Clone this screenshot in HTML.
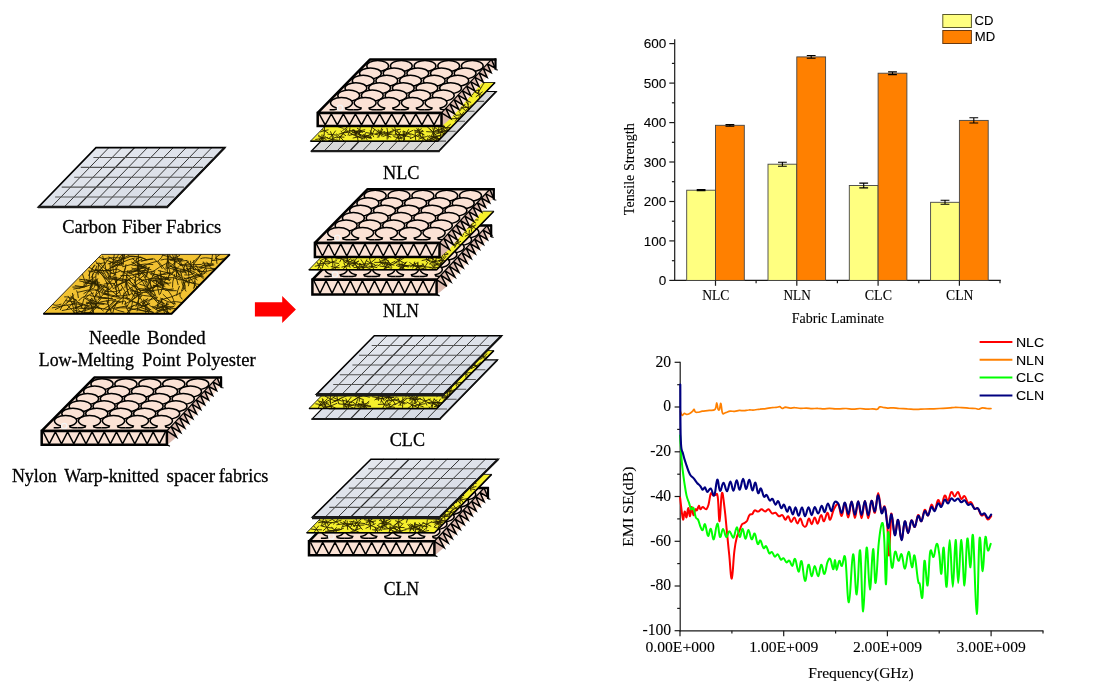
<!DOCTYPE html>
<html lang="en"><head><meta charset="utf-8"><title>Fabric laminates: structure, tensile strength and EMI SE</title>
<style>html,body{margin:0;padding:0;background:#fff}svg{display:block}</style></head>
<body>
<svg width="1116" height="693" viewBox="0 0 1116 693">
<rect width="1116" height="693" fill="#fff"/>
<defs><linearGradient id="cg" x1="0" y1="0" x2="1" y2="1"><stop offset="0" stop-color="#e8ebf1"/><stop offset="1" stop-color="#d3d8e2"/></linearGradient></defs>
<g>
<polygon points="96,147.6 224.8,147.6 167.3,206.9 38.5,206.9" fill="url(#cg)" stroke="none"/>
<line x1="108.9" y1="147.6" x2="51.4" y2="206.9" stroke="#222" stroke-width="0.9"/>
<line x1="121.8" y1="147.6" x2="64.3" y2="206.9" stroke="#222" stroke-width="0.9"/>
<line x1="134.6" y1="147.6" x2="77.1" y2="206.9" stroke="#222" stroke-width="1.2"/>
<line x1="147.5" y1="147.6" x2="90" y2="206.9" stroke="#222" stroke-width="0.9"/>
<line x1="160.4" y1="147.6" x2="102.9" y2="206.9" stroke="#222" stroke-width="0.9"/>
<line x1="173.3" y1="147.6" x2="115.8" y2="206.9" stroke="#222" stroke-width="0.9"/>
<line x1="186.2" y1="147.6" x2="128.7" y2="206.9" stroke="#222" stroke-width="0.9"/>
<line x1="199" y1="147.6" x2="141.5" y2="206.9" stroke="#222" stroke-width="0.9"/>
<line x1="211.9" y1="147.6" x2="154.4" y2="206.9" stroke="#222" stroke-width="0.9"/>
<line x1="93.4" y1="157.5" x2="212.7" y2="157.5" stroke="#555" stroke-width="1.1"/>
<line x1="80.8" y1="167.4" x2="203.1" y2="167.4" stroke="#555" stroke-width="1.1"/>
<line x1="74.2" y1="177.2" x2="193.6" y2="177.2" stroke="#555" stroke-width="1.1"/>
<line x1="61.7" y1="187.1" x2="184" y2="187.1" stroke="#555" stroke-width="1.1"/>
<line x1="55.1" y1="197" x2="174.4" y2="197" stroke="#555" stroke-width="1.1"/>
<polygon points="96,147.6 224.8,147.6 167.3,206.9 38.5,206.9" fill="none" stroke="#000" stroke-width="1.6" stroke-linejoin="miter"/>
<polyline points="38.5,206.9 167.3,206.9 224.8,147.6" fill="none" stroke="#111" stroke-width="2.1"/>
<line x1="37.9" y1="207.2" x2="167.9" y2="207.2" stroke="#1c1c1c" stroke-width="2.3"/>
</g>
<text x="62.2" y="232.9" font-size="18.3" text-anchor="start" font-family='"Liberation Serif","Times New Roman",serif' fill="#000" textLength="54.2" lengthAdjust="spacingAndGlyphs" stroke="#000" stroke-width="0.28">Carbon</text>
<text x="121.9" y="232.9" font-size="18.3" text-anchor="start" font-family='"Liberation Serif","Times New Roman",serif' fill="#000" textLength="39.6" lengthAdjust="spacingAndGlyphs" stroke="#000" stroke-width="0.28">Fiber</text>
<text x="166.1" y="232.9" font-size="18.3" text-anchor="start" font-family='"Liberation Serif","Times New Roman",serif' fill="#000" textLength="55.2" lengthAdjust="spacingAndGlyphs" stroke="#000" stroke-width="0.28">Fabrics</text>
<g>
<polygon points="101.5,254.4 229.8,254.4 171.6,313.8 43.3,313.8" fill="#f2c232" stroke="none"/>
<clipPath id="c11"><polygon points="101.5,254.4 229.8,254.4 171.6,313.8 43.3,313.8" /></clipPath>
<path d="M126 278.7Q126.1 288.9 129.3 296M126.9 280.1Q126 287.1 128.3 294.6M93.5 280.5Q91 287.4 89.1 291.9M142.2 289.9Q146.8 288.5 153.9 291.7M135.9 273.4Q135.4 281.7 134.8 288.3M147.5 267.6Q141.9 270.9 139.1 276.3M64.2 296.9Q68.3 296.2 76.8 300.4M73.8 294.6Q72.6 296.4 67.1 302.7M101.4 293.8Q111.7 294.4 119.3 297.2M103.6 294Q112.7 296.8 117.1 297M96.1 270Q104 271.2 112 270.5M96.6 278.9Q98 287 100.3 290.3M61.4 304Q55.2 306.5 52.2 304M150.8 288.1Q143.5 289.7 138.6 288.5M120.9 271.8Q127.5 270.5 132.7 274.1M122.2 289.9Q114.5 292.6 106.1 291.6M122.2 262.4Q115.3 266.4 111.5 268M214.3 264.9Q205.5 265.5 197.5 270.1M194.3 266.4Q204.6 268.5 217.5 268.7M86.4 298.1Q91 299.6 93.4 305.5M83.4 297.2Q91.7 302.4 96.5 306.4M91.2 304.1Q87.3 305.7 84.2 309.8M88.2 270.9Q93.3 271.3 98.9 273.4M166.6 276.5Q163.3 284.6 160.3 294.1M138.3 250.6Q137.9 261.1 139.4 266.6M92.4 284.1Q83.9 288.1 73.3 289.1M205 273.3Q194.1 277.5 184 278.7M202.5 273.1Q195.2 275.4 186.5 278.9M135.5 288.8Q139.5 289.6 145.8 291.3M90.8 299.4Q90.7 309.1 94.8 316.3M83.8 307.2Q92.7 306.5 101.8 308.5M157.4 281.3Q159.6 284.8 163.8 286.6M156 281.2Q162.6 284.7 165.3 286.7M106.7 300.6Q109.2 307 110.5 310.4M180.2 261.1Q182.4 265.9 186.5 274.4M125.2 295.2Q117 300.9 110.9 309.8M149 268.8Q142.7 272.7 136.3 274.8M138.6 295.5Q143.2 303.3 150.1 310M147.8 298.3Q143.6 303.5 140.8 307.3M136.1 288.1Q138.4 290.5 137.4 295.5M132.3 290.1Q137.4 291.5 141.1 293.5M153.5 291.6Q142.4 292.4 134.4 293.6M124.5 253.6Q122.6 258.8 123.5 261.2M125.4 248.2Q124 259.8 122.6 266.6M65.7 300.7Q77.9 301.3 87.8 305.6M120.9 284.5Q126.1 292.4 127.5 297.5M181.6 279.4Q193.6 284.2 202.5 284.8M116.7 269.4Q105.1 271.5 93.1 270.6M98.9 262.4Q106.7 269.3 111 277.7M95.5 276.5Q87 282.4 83.3 285.2M79.1 279.2Q87.8 280 99.7 282.5M201.8 264.4Q190.6 265.3 179.3 264.5M114.6 300.6Q109.3 306.5 103.3 309.2M157.8 260.9Q163.7 267.8 166 270.6M83.9 298.6Q82.8 303.3 81.2 307.9M174.9 252.3Q176 258.6 174.1 264.3M133 293.2Q127.3 296 117.5 295.9M131.4 267.8Q140.2 272.2 145.7 272.6M138.1 264.7Q137 270.8 139.1 275.7M202 263.3Q205.2 262.8 213.3 264.4M167.8 267.6Q175.3 270.2 186.6 272.7M173 266.7Q177.4 269.8 181.4 273.5M127.5 270.6Q126.4 278 124.9 288.1M92.5 281.1Q101.6 288.5 107.5 291.8M115 267.9Q126.2 272.2 133.5 280.1M90.3 290.7Q95.2 296.7 95.7 302.3M168.9 265.7Q176.6 269.3 185.7 269.8M108.9 287.6Q107.3 293.1 108.8 303M108.5 256.7Q112.3 260.5 119.1 260.9M125.3 258.5Q111.8 256.6 102.4 259.1M188.9 276.5Q193.1 281.7 197.2 287.5M180 255.3Q174.6 258.7 169.6 259.7M131.5 265Q140.6 265.4 151.4 269.9M159 300Q158.1 303.8 156.4 309.3M162.5 301Q155.8 305.8 152.8 308.2M82.8 305Q73.3 309.1 61.8 310.6M166.7 277.7Q173.4 276.5 180.5 280.2M103.1 285.5Q112.5 290.9 120.4 297.9M148 278.9Q152.8 288.9 156.2 296.9M137.4 308.8Q141.1 310.1 147.4 311.8M116.7 298.2Q122 297.6 129.6 298.6M124.1 292.3Q123.2 300.1 122.2 304.4M92.7 273.5Q93.5 280.5 89.8 288.6M203.3 274.9Q196 277.5 187.9 280.9M149.6 266.8Q146.4 273.1 145.2 277.8M148.7 267.1Q148.5 271.3 146.2 277.5M94.7 264.6Q92.5 267.9 88.5 275.7M108.7 276.4Q119.4 278.4 130.7 280.6M217.1 268.5Q207.2 272.5 197.6 271.6M161.7 288.8Q167.3 291.6 176.7 290.7M136.1 257.7Q137.5 264 139.5 272.7M160.7 278.5Q149.5 277.8 140.9 280.9M162.8 294.1Q169.8 300.6 174.6 305.2M105.8 269.1Q113.4 274.1 116.3 274.9M200.4 258.8Q204.5 256.6 213.3 259.1M120.5 270.8Q113.6 274.4 109.5 273.2M137.7 269Q144.1 274 147.2 283.2M72.4 293Q73.6 299.2 75.9 309M70.5 296Q78.4 300.9 83 308.9M155.5 286.9Q148.7 288.8 146.1 290.1M150.3 280.8Q149.8 289.9 151.2 296.2M105.5 263.1Q102.1 267.6 96.1 273.8M195.5 264.8Q198.7 269.1 199.8 272.7M161.4 299.9Q162.5 307.2 165.5 316.4M90.8 305.6Q98.8 308.7 111.5 310.1M137.8 296.2Q132.6 300.6 124 304.4M88.8 295.5Q81.5 296.5 78.6 301M129.1 256.6Q138.9 255.9 145.9 259.4M127.8 256Q139.5 255.9 147.2 260M167.4 261.2Q173.1 264.7 176.2 268.1M177.3 260.6Q171 267 166.3 268.7M164.6 276.5Q157.2 285.4 150.8 291M147.4 299Q140 304.1 128.1 307.9M138.5 295.6Q139.2 303 137 311.3M153.2 264.6Q144.2 263.3 138.6 264.9M137.7 264.8Q137.7 271 139.5 280.7M157 306.3Q166.6 305.7 173.2 307M159.2 303.3Q165.5 307.1 171 310M127.2 281.7Q131.1 285.9 138.2 287.5M127.9 278.9Q134.3 284.5 137.5 290.3M91.9 298.1Q84.9 307.1 82 312.5M145.5 265.2Q139.7 268.7 133.6 272.1M93.5 308Q85.1 310.6 72.7 313.8M107.5 271.9Q108.4 281.8 112.9 287.8M193.9 260Q194 262.3 193.4 267.9M82.9 304.7Q77.5 307.9 74.3 309M79.3 280.9Q89.2 283 98.8 285.1M83.1 282.7Q87.5 283.9 94.9 283.3M174.8 274.1Q172 282.5 172.5 287.5M126 264.3Q124.8 271.6 121.8 283.2M109.8 257.6Q105.9 262.6 99.2 271.3M102.6 255.8Q105.5 264.3 106.3 273.1M142.1 259.2Q133.4 265 122.6 266.8M97.8 289.9Q88 289 77.7 292.3M99.7 269.4Q105.9 278.5 111.5 285.3M90 299.7Q96.9 302.6 107.4 304.3M122.1 263.8Q112.2 266 106.5 270.8M120.6 259.8Q116.9 265.7 110 267.3M109.8 261.5Q113.6 264.5 120.8 265.6M117.9 301.6Q111 308.6 106 312.6M75.8 307.2Q78.8 310.3 83.8 314.1M167.7 262.7Q159.8 266.3 150.8 273.2M143.4 300.2Q145.3 307.2 150.8 312M195.4 281.3Q195.2 286.4 193.4 288.7M97.9 278.4Q96 282.2 89.8 287.4M93.2 278.6Q96.2 281.1 94.5 287.2M184.2 281.4Q185 288.9 181.7 291.6M173.8 288.9Q170.3 289 165 290.4M167.8 272.8Q172.9 274.3 182.2 280.4M66.5 304.4Q73.1 310.1 77.3 317M124.7 297.8Q129 300.8 138 303.6M96 273.8Q95.9 278.1 95.2 284.1M175.9 252.6Q176.4 258.1 180.9 265.1M168.1 302.1Q164.7 308.4 156.5 311.3M169.1 304Q161.9 307 155.5 309.3M182.9 281.9Q186.1 284.5 185.2 289.1M186.8 279.7Q183.4 284.6 181.3 291.3M143.2 299Q149.7 306.9 158.8 311M195.4 277.8Q193.9 282.3 194.3 287.8M134.8 258Q129.3 259.1 120.8 263M152.8 285.2Q160.8 287.9 172.7 290.3M220.8 254Q216 256.5 214.6 259.6M125 279.4Q126.6 283.4 132.8 292.2M185.6 270Q196.3 275.5 204.2 277.2M186.1 268.4Q195.9 271.4 203.7 278.8M85.9 303.4Q96.1 304 104.4 304.1M95.8 298.7Q97.4 306.1 94.5 308.7M171.5 272.9Q164.6 275.4 158.5 274.1M90.7 304.6Q94 307.2 93.7 313.5M95.9 304.8Q93.3 309.1 88.5 313.4M125.8 266.9Q123 273.8 122.3 276.5M168.1 267.9Q170.7 269.8 169.2 275.9M213 251.1Q212.4 255.5 211.2 263.3M206.6 261.8Q210.5 269.1 217.6 272.4M228.9 256.8Q217.9 260.6 211.8 260.5M215.5 257.9Q221.7 260.7 225.2 259.4M116.3 276.6Q117.5 284.1 115.4 289.8M117.8 300.9Q112.9 308.5 111.9 316.6M162.5 281.5Q153 286.7 146.1 291.9M94.5 285Q101 286.2 102.7 292M96.8 279.7Q97.8 289 100.4 297.2M140.3 294.2Q130.9 298.9 126.2 307.5M125.4 296.9Q133.6 301.9 141.1 304.8M168.5 259Q175.9 259.9 182.1 260.5M169.3 254.5Q173.2 261.3 181.3 265M110 263.1Q110.6 270.5 110.2 278.3M123.1 274.8Q114.3 283.6 109.1 289.8M169.1 254.6Q165.8 263.7 167.5 273.6M168.7 260Q168.5 264 167.9 268.3M160.6 306.4Q165.6 309.5 167.1 313.3M95.4 260.9Q101.8 266.9 107 277.5M122.8 287.1Q118.9 294.2 110.9 297.4M210.9 265.5Q204.3 264.2 199 267.4M203.3 261.6Q206.4 268 206.6 271.4M145.4 274.2Q139.5 279.3 133.6 283.1M132.6 275.1Q139.7 278.2 146.4 282.2M97 265.7Q95.1 271.9 90.8 278.1M131.9 288Q134.9 294.5 141.5 296.6M98.5 298.3Q104.8 296.5 112.3 299M186.8 268.7Q192 273 197.3 280.4M153.9 258.6Q158.4 261.9 162.4 268.9M177.1 267.1Q172.8 269.9 171.5 274.9M179 266.3Q173.7 272.8 169.6 275.7M116.5 268.6Q116.4 274 112.7 276.9M163.1 253.9Q162.4 257.7 158.2 260.9M132.3 258.5Q137.1 263.1 145.9 268.4M153.6 258.9Q148.1 258.7 140.7 261.2M153 258.9Q148.5 259.3 141.3 261.2M171.2 282.8Q161 284 151 287.6M194.5 272.3Q191.4 275.7 184.2 274.9M115 271.9Q114.4 275 116.3 282.9M90.7 299.9Q95.6 305.4 103.6 311.1M116.3 308.2Q124.7 306.8 135.9 309.7M74.8 285.6Q79.5 286.2 84.6 287.2M87.1 285.8Q81.2 287.4 72.4 287.1M115 283.5Q107.9 282.5 103.8 284.2M112.8 279.6Q106.9 284 106.1 288.1M146.8 266.1Q135.6 271.5 128.6 273.6M146.8 267.1Q139.2 268.7 128.7 272.6M120.1 251.5Q116.8 259.5 109 264.1M94.5 287.7Q88.5 290.1 83.5 293.8M93.1 285.1Q89.7 290.1 84.8 296.4M150.1 303.3Q140.7 308.8 128 310.5M85.9 302.2Q94.5 303.1 104.1 304.1M91.5 297.9Q96.2 304.1 98.5 308.5M103.9 287.1Q98.7 292.8 95.2 295.8M162.6 298.1Q161.5 300.9 158 306M155 299.7Q160.9 301 165.5 304.4M132.6 301.1Q131.9 308.2 126.4 318.9M133.8 304.9Q130.2 309.5 125.3 315.1M152.1 306.3Q164.5 309.3 173.2 315.4M113.8 277.6Q118.8 288 120.5 294.8M128.8 255.4Q119 259.9 111.3 265.5M123.8 252.8Q122.5 259.9 116.4 268.1M155.6 278.1Q157.8 288.6 159.4 295.1M183.6 277.3Q186.4 278.6 188.5 283.6M157.9 270.5Q164 272 169.6 273M123.2 254Q120.1 255.4 118.6 260.3M144.7 304.9Q146.6 310.4 145.5 317M136.6 309.7Q145.9 311.6 153.6 312.2M94 308Q87.8 309.2 78.3 308.2M124 250.6Q121.6 255.9 121.6 265.8M160.6 260.1Q169 257.8 172.7 260.4M167.6 251.8Q168.1 261.4 165.8 268.6M116.1 299.4Q109.9 300.2 100.2 302M179.5 286Q177.5 290.2 176.6 295.7M141.9 295.3Q137.9 298.9 135.8 306.9M145 282.3Q148.6 290.5 155 296.2M129.9 289.9Q131.8 292.4 135.1 298M82.2 273.3Q84.5 280.9 86.3 283.9M71.8 303.4Q81 304 89.3 306.4M107.1 300.6Q108.2 306.9 112.6 315.6M116 300.2Q109 306.5 103.7 316M99.4 305.2Q95.2 308.6 86.9 316.5M167.2 272.4Q158.9 275.9 150.6 278.8M148.8 272.6Q159.9 275.4 169 278.6M160.9 273.8Q161 277.4 160.8 285.5M169 278Q160.6 278.6 152.6 281.4M98.5 256.8Q108.1 260.9 112.8 262.7M89.7 295.5Q102.6 299 112.9 298.6M95.8 295.4Q103.4 298.5 106.9 298.7M114.5 253.5Q111.9 264.9 113.6 272.6M174.2 263.7Q177.2 269 176.6 277.2M94.9 289.9Q103.6 293.8 109.6 294M91.6 279.4Q87.2 285.4 78.7 288.5M96 268.8Q104 275.4 107.5 284.7M106 278.8Q115.4 279.5 125.1 280.3M106.5 277.5Q115.7 278.6 124.5 281.6M162.5 301.9Q167.5 311.5 170.5 317.7M175.8 308.5Q165 308.3 157.2 311.1M179.7 265.5Q185.1 265.4 192.8 266.8M188.8 261.1Q183.8 264 183.7 271.2M93.9 292.8Q87.2 294.8 84.9 299.2M114.3 283.7Q117.6 289.5 116.5 296.8M168.4 262.7Q174.2 271.4 182.2 276.5M156.8 274.1Q160.8 281.4 163.8 289.2M152.8 280.4Q159.2 281.3 167.8 282.9M205.7 268.4Q202 270.9 199.2 277.1M194.2 267.3Q199.4 271.9 200.9 273.8M188.6 268.1Q197.3 269.1 206.5 273M203.6 251.8Q196.7 259.6 191.3 263.5M215.6 252.3Q216.1 257.1 217 263.8M163.4 289.2Q151 291.5 139.6 290.6M136.1 293.8Q143.4 295.9 151.7 296.4M76.2 302.3Q76.4 308.8 76.4 319.4M204.4 248.8Q198.5 258.9 192.9 265.2M157.4 261.3Q148.9 262.9 136.4 269.2M120.6 283.4Q119.2 286.4 112.7 288.8M98.7 264.3Q97.7 268.5 98.2 275.2M150.9 277.8Q147.3 280.5 147.7 286.7M160.2 298Q166.4 301.6 175.9 304.1M179.8 292.2Q179.3 297.3 182.3 299.3M147.9 289.9Q153 295.7 158.9 301.6M181.6 281.4Q182.5 286.6 186.2 291.5M150.2 274Q160.1 277.9 169.4 285.4M171.3 279.2Q157.8 280.3 148.4 280.2M100 283.9Q103 288.8 106.3 295.2M126.1 275.8Q129.1 280.8 135.5 287M101 298.5Q97.4 303.8 95.2 304.5M134 279Q135.5 286.5 141 292.2M138.2 267.9Q134.2 268 127.6 272.6M113.7 262.5Q117.6 262.1 124 263.9M174.2 275Q177.1 278 178.2 285.1M171.6 301.8Q175.5 301.1 182.8 302.7M74.5 310.3Q83.8 313.5 92.6 312.5M85.5 308Q85.7 312.7 81.6 314.8M170.2 249.7Q175.1 259.2 175.1 264.5M162.6 255.1Q172.4 258.3 182.7 259M131 277.6Q126.6 282.4 118.3 284.9M134.8 276.6Q123.9 282.9 114.5 285.9M144.7 287.5Q151.5 297.3 157.8 302.9M145.2 291.4Q151.4 296.9 157.2 298.9M67.9 295.9Q73.3 303 74.3 313.1M76 299.2Q70.8 306 66.2 309.8M144.2 279.5Q136.5 284.7 133.7 286.7M160.1 270.3Q161.2 278.7 162.7 284.4M152.7 273.9Q160.9 275.3 170.1 280.9M134 286.1Q127 289.2 122.4 296.6M180.4 270.3Q182.6 279.8 184.2 284.6M182.8 280Q188.9 282.6 193.8 283.4M188.3 277.2Q190.8 280.9 188.3 286.2M85.7 279.3Q97.3 285.1 106.4 287.8M86.1 281.1Q94.6 282.1 105.9 286.1M129.7 287.8Q133.2 292.6 140.1 292.4M139.9 273.3Q129.1 276.3 120.3 275.7M174 267.1Q178.5 272.1 179 275.4M107.2 282.2Q106.5 286.3 107.9 292.7M124.9 300.9Q115.8 302.5 110.4 308.2M186.4 260.6Q192.2 266.4 195.2 270.7M139.8 278.7Q143.4 281.9 145.6 287.4M148.5 304.5Q145.4 306 138 305.8M74.9 304.1Q61.9 305.4 51.9 308M131.3 261.9Q136.3 266.5 145 267.1M166.4 302.5Q166.3 311 170.2 317.6M125.3 301Q125.2 307.3 129.4 313.6M112 307.7Q117.4 310.9 124.3 312.1M174.4 306.2Q161.6 310.1 153.6 314.1M142.6 293.4Q137.6 296.5 132.5 295.1M105.5 262.4Q98.5 264.5 96.2 263.4M153.2 285.2Q159.7 287.6 163.2 285.2M176 275.3Q183.7 277.8 187.4 282.8M89.5 271.3Q89.8 279.1 88.5 282.7M136.6 263.1Q143.6 266.9 147.9 272.4M99.3 285.8Q97.1 290.1 94.1 299.3M141.1 256.8Q134.7 259.1 132.9 263.9M76.6 290.4Q77.8 292.4 78.4 298M187.5 260.4Q178.2 262 172.7 260.8M176.8 270.3Q179.7 276.5 181.7 280.2M111.9 300.9Q118.9 301.1 121.3 302.1M129.4 257Q120.7 259.7 107.7 264M213.5 263.7Q205.9 265.4 201.8 265.3M166.5 289.2Q172.7 294.7 174.6 303.8M181.5 292.7Q171.7 297.4 159.6 300.2M95.2 269.2Q102.2 274 106.2 279.4M179.9 269.8Q183.8 270.1 191.9 272.3M139.2 304.6Q145.6 306.3 151.4 310M141.1 301.4Q146.5 307.6 152 318.5M139.4 307.1Q147.5 309.6 153.7 312.8M139.4 284.2Q145.6 285 149.5 288.7M95.3 265Q91.2 268 91.9 272.5M83.4 264.1Q92.8 270.5 103.8 273.5M136.6 289.3Q133.2 296.3 131.4 299.5M142.7 272.9Q150.7 280.5 158.8 286.3M154.9 271.3Q151.6 279.4 146.6 287.9M128.2 305.9Q121.8 306.5 114.8 308.2M171.3 272Q169.4 273.4 167.7 278.6M155.2 294.2Q149.5 300.5 144.8 306.8M157.8 297.3Q147.8 299.6 142.3 303.8M183.4 259.7Q176.5 258.1 170.2 260.6M192.1 266.5Q189 269.6 181.8 272.6M184.9 262.8Q189.2 269.5 188.9 276.3M154.7 270.9Q146.6 272.4 136.5 274.4M109 286.3Q104.3 294.8 97.5 300.3M186.6 262.3Q192.3 264 193.9 270.5M190.5 260.8Q191.7 267 190 272.1M168.6 307.4Q161.8 306.7 157.3 308.1M145.6 270.3Q134.6 271.8 127.3 271M72.3 298.7Q64 306.4 55 309.7M67.1 298.3Q63 303.5 60.2 310.1" fill="none" stroke="#2a2300" stroke-width="0.9" clip-path="url(#c11)"/>
<polygon points="101.5,254.4 229.8,254.4 171.6,313.8 43.3,313.8" fill="none" stroke="#000" stroke-width="0.8"/>
<polyline points="43.3,313.8 171.6,313.8 229.8,254.4" fill="none" stroke="#000" stroke-width="2.0"/>
</g>
<text x="89" y="343.9" font-size="18.3" text-anchor="start" font-family='"Liberation Serif","Times New Roman",serif' fill="#000" textLength="51" lengthAdjust="spacingAndGlyphs" stroke="#000" stroke-width="0.28">Needle</text>
<text x="147.1" y="343.9" font-size="18.3" text-anchor="start" font-family='"Liberation Serif","Times New Roman",serif' fill="#000" textLength="58.6" lengthAdjust="spacingAndGlyphs" stroke="#000" stroke-width="0.28">Bonded</text>
<text x="38.8" y="366.3" font-size="18.3" text-anchor="start" font-family='"Liberation Serif","Times New Roman",serif' fill="#000" textLength="95" lengthAdjust="spacingAndGlyphs" stroke="#000" stroke-width="0.28">Low-Melting</text>
<text x="142.3" y="366.3" font-size="18.3" text-anchor="start" font-family='"Liberation Serif","Times New Roman",serif' fill="#000" textLength="38.4" lengthAdjust="spacingAndGlyphs" stroke="#000" stroke-width="0.28">Point</text>
<text x="186.6" y="366.3" font-size="18.3" text-anchor="start" font-family='"Liberation Serif","Times New Roman",serif' fill="#000" textLength="69" lengthAdjust="spacingAndGlyphs" stroke="#000" stroke-width="0.28">Polyester</text>
<g stroke-linejoin="miter">
<polygon points="166.9,430.9 176.5,437.1 180.6,432.5 184.6,427.9 188.6,423.2 192.6,418.6 196.6,413.9 200.6,409.3 204.6,404.6 208.6,400 212.6,395.4 216.6,390.7 220.6,386.1 221.1,387.6 221.1,377.6 217.1,377.6" fill="#fbe2d5" stroke="none"/>
<polygon points="166.9,430.9 176.5,437.1 167.4,444.8" fill="#dcb9ae" stroke="none"/>
<polygon points="166.9,430.9 172.2,435.2 176.5,437.1 171.1,426.5" fill="#dcb9ae" stroke="none"/>
<polygon points="171.1,426.5 176.3,430.7 180.6,432.5 175.3,422" fill="#dcb9ae" stroke="none"/>
<polygon points="175.3,422 180.4,426.1 184.6,427.9 179.4,417.6" fill="#dcb9ae" stroke="none"/>
<polygon points="179.4,417.6 184.5,421.6 188.6,423.2 183.6,413.1" fill="#dcb9ae" stroke="none"/>
<polygon points="183.6,413.1 188.6,417.1 192.6,418.6 187.8,408.7" fill="#dcb9ae" stroke="none"/>
<polygon points="187.8,408.7 192.7,412.5 196.6,413.9 192,404.2" fill="#dcb9ae" stroke="none"/>
<polygon points="192,404.2 196.8,408 200.6,409.3 196.2,399.8" fill="#dcb9ae" stroke="none"/>
<polygon points="196.2,399.8 200.9,403.4 204.6,404.6 200.4,395.4" fill="#dcb9ae" stroke="none"/>
<polygon points="200.4,395.4 205,398.9 208.6,400 204.6,390.9" fill="#dcb9ae" stroke="none"/>
<polygon points="204.6,390.9 209.1,394.3 212.6,395.4 208.7,386.5" fill="#dcb9ae" stroke="none"/>
<polygon points="208.7,386.5 213.2,389.8 216.6,390.7 212.9,382" fill="#dcb9ae" stroke="none"/>
<polygon points="212.9,382 217.3,385.3 220.6,386.1 217.1,377.6" fill="#dcb9ae" stroke="none"/>
<polyline points="166.9,430.9 176.5,437.1 171.1,426.5 180.6,432.5 175.3,422 184.6,427.9 179.4,417.6 188.6,423.2 183.6,413.1 192.6,418.6 187.8,408.7 196.6,413.9 192,404.2 200.6,409.3 196.2,399.8 204.6,404.6 200.4,395.4 208.6,400 204.6,390.9 212.6,395.4 208.7,386.5 216.6,390.7 212.9,382 220.6,386.1 217.1,377.6" fill="none" stroke="#000" stroke-width="1.5" stroke-linejoin="miter"/>
<line x1="221.1" y1="376.6" x2="221.1" y2="387.6" stroke="#000" stroke-width="2.2"/>
<line x1="221.1" y1="387.6" x2="223.6" y2="387.9" stroke="#000" stroke-width="0.9"/>
<line x1="166.9" y1="444.8" x2="169.9" y2="446.3" stroke="#000" stroke-width="1.2"/>
<polygon points="94.3,377.6 217.1,377.6 166.9,430.9 41.7,430.9" fill="#fbe2d5" stroke="none"/>
<clipPath id="s94_377"><polygon points="94.3,377.6 217.1,377.6 166.9,430.9 41.7,430.9" /></clipPath>
<g clip-path="url(#s94_377)">
<ellipse cx="102" cy="384.1" rx="11.1" ry="5.4" fill="#fbe2d5" stroke="#000" stroke-width="1.5"/>
<ellipse cx="125.9" cy="384.1" rx="11.1" ry="5.4" fill="#fbe2d5" stroke="#000" stroke-width="1.5"/>
<ellipse cx="149.9" cy="384.1" rx="11.1" ry="5.4" fill="#fbe2d5" stroke="#000" stroke-width="1.5"/>
<ellipse cx="173.8" cy="384.1" rx="11.1" ry="5.4" fill="#fbe2d5" stroke="#000" stroke-width="1.5"/>
<ellipse cx="197.7" cy="384.1" rx="11.1" ry="5.4" fill="#fbe2d5" stroke="#000" stroke-width="1.5"/>
<ellipse cx="94.7" cy="391.5" rx="11.1" ry="5.4" fill="#fbe2d5" stroke="#000" stroke-width="1.5"/>
<ellipse cx="118.7" cy="391.5" rx="11.1" ry="5.4" fill="#fbe2d5" stroke="#000" stroke-width="1.5"/>
<ellipse cx="142.6" cy="391.5" rx="11.1" ry="5.4" fill="#fbe2d5" stroke="#000" stroke-width="1.5"/>
<ellipse cx="166.5" cy="391.5" rx="11.1" ry="5.4" fill="#fbe2d5" stroke="#000" stroke-width="1.5"/>
<ellipse cx="190.4" cy="391.5" rx="11.1" ry="5.4" fill="#fbe2d5" stroke="#000" stroke-width="1.5"/>
<ellipse cx="87.5" cy="398.8" rx="11.1" ry="5.4" fill="#fbe2d5" stroke="#000" stroke-width="1.5"/>
<ellipse cx="111.4" cy="398.8" rx="11.1" ry="5.4" fill="#fbe2d5" stroke="#000" stroke-width="1.5"/>
<ellipse cx="135.3" cy="398.8" rx="11.1" ry="5.4" fill="#fbe2d5" stroke="#000" stroke-width="1.5"/>
<ellipse cx="159.2" cy="398.8" rx="11.1" ry="5.4" fill="#fbe2d5" stroke="#000" stroke-width="1.5"/>
<ellipse cx="183.2" cy="398.8" rx="11.1" ry="5.4" fill="#fbe2d5" stroke="#000" stroke-width="1.5"/>
<ellipse cx="80.2" cy="406.2" rx="11.1" ry="5.4" fill="#fbe2d5" stroke="#000" stroke-width="1.5"/>
<ellipse cx="104.1" cy="406.2" rx="11.1" ry="5.4" fill="#fbe2d5" stroke="#000" stroke-width="1.5"/>
<ellipse cx="128" cy="406.2" rx="11.1" ry="5.4" fill="#fbe2d5" stroke="#000" stroke-width="1.5"/>
<ellipse cx="152" cy="406.2" rx="11.1" ry="5.4" fill="#fbe2d5" stroke="#000" stroke-width="1.5"/>
<ellipse cx="175.9" cy="406.2" rx="11.1" ry="5.4" fill="#fbe2d5" stroke="#000" stroke-width="1.5"/>
<ellipse cx="72.9" cy="413.6" rx="11.1" ry="5.4" fill="#fbe2d5" stroke="#000" stroke-width="1.5"/>
<ellipse cx="96.8" cy="413.6" rx="11.1" ry="5.4" fill="#fbe2d5" stroke="#000" stroke-width="1.5"/>
<ellipse cx="120.8" cy="413.6" rx="11.1" ry="5.4" fill="#fbe2d5" stroke="#000" stroke-width="1.5"/>
<ellipse cx="144.7" cy="413.6" rx="11.1" ry="5.4" fill="#fbe2d5" stroke="#000" stroke-width="1.5"/>
<ellipse cx="168.6" cy="413.6" rx="11.1" ry="5.4" fill="#fbe2d5" stroke="#000" stroke-width="1.5"/>
<path d="M53.7 427.8H54.8Q61.6 427.8 61.6 426A11.1 5.4 0 1 1 69.6 426Q69.6 427.8 76.5 427.8H77.6" fill="#fbe2d5" stroke="#000" stroke-width="1.5"/>
<path d="M54.8 427.8Q61.6 427.8 61.6 426.6L61.8 427.8Z" fill="#000"/>
<path d="M76.5 427.8Q69.6 427.8 69.6 426.6L69.4 427.8Z" fill="#000"/>
<path d="M77.6 427.8H78.7Q85.6 427.8 85.6 426A11.1 5.4 0 1 1 93.5 426Q93.5 427.8 100.4 427.8H101.5" fill="#fbe2d5" stroke="#000" stroke-width="1.5"/>
<path d="M78.7 427.8Q85.6 427.8 85.6 426.6L85.8 427.8Z" fill="#000"/>
<path d="M100.4 427.8Q93.5 427.8 93.5 426.6L93.3 427.8Z" fill="#000"/>
<path d="M101.5 427.8H102.6Q109.5 427.8 109.5 426A11.1 5.4 0 1 1 117.5 426Q117.5 427.8 124.3 427.8H125.4" fill="#fbe2d5" stroke="#000" stroke-width="1.5"/>
<path d="M102.6 427.8Q109.5 427.8 109.5 426.6L109.7 427.8Z" fill="#000"/>
<path d="M124.3 427.8Q117.5 427.8 117.5 426.6L117.3 427.8Z" fill="#000"/>
<path d="M125.4 427.8H126.6Q133.4 427.8 133.4 426A11.1 5.4 0 1 1 141.4 426Q141.4 427.8 148.2 427.8H149.4" fill="#fbe2d5" stroke="#000" stroke-width="1.5"/>
<path d="M126.6 427.8Q133.4 427.8 133.4 426.6L133.6 427.8Z" fill="#000"/>
<path d="M148.2 427.8Q141.4 427.8 141.4 426.6L141.2 427.8Z" fill="#000"/>
<path d="M149.4 427.8H150.5Q157.3 427.8 157.3 426A11.1 5.4 0 1 1 165.3 426Q165.3 427.8 172.2 427.8H173.3" fill="#fbe2d5" stroke="#000" stroke-width="1.5"/>
<path d="M150.5 427.8Q157.3 427.8 157.3 426.6L157.5 427.8Z" fill="#000"/>
<path d="M172.2 427.8Q165.3 427.8 165.3 426.6L165.1 427.8Z" fill="#000"/>
<circle cx="64.2" cy="426" r="2.7" fill="#fbe2d5" stroke="#f4f4f4" stroke-width="1.3"/>
</g>
<line x1="166.9" y1="430.9" x2="217.1" y2="377.6" stroke="#000" stroke-width="1.3"/>
<polyline points="166.9,430.9 41.7,430.9 94.3,377.6 221.9,377.6" fill="none" stroke="#000" stroke-width="2.5" stroke-linejoin="bevel"/>
<polygon points="41.7,430.9 166.9,430.9 166.9,444.8 41.7,444.8" fill="#fbe2d5" stroke="none"/>
<polyline points="43.2,431.9 49.3,443.8 55.4,431.9 61.5,443.8 67.6,431.9 73.8,443.8 79.9,431.9 86,443.8 92.1,431.9 98.2,443.8 104.3,431.9 110.4,443.8 116.5,431.9 122.6,443.8 128.7,431.9 134.8,443.8 141,431.9 147.1,443.8 153.2,431.9 159.3,443.8 165.4,431.9" fill="none" stroke="#000" stroke-width="1.45" stroke-linejoin="miter"/>
<polygon points="41.7,430.9 166.9,430.9 166.9,444.8 41.7,444.8" fill="none" stroke="#000" stroke-width="2.5"/>
</g>
<text x="11.9" y="482.2" font-size="18.3" text-anchor="start" font-family='"Liberation Serif","Times New Roman",serif' fill="#000" textLength="44.8" lengthAdjust="spacingAndGlyphs" stroke="#000" stroke-width="0.28">Nylon</text>
<text x="64.3" y="482.2" font-size="18.3" text-anchor="start" font-family='"Liberation Serif","Times New Roman",serif' fill="#000" textLength="94.5" lengthAdjust="spacingAndGlyphs" stroke="#000" stroke-width="0.28">Warp-knitted</text>
<text x="166.5" y="482.2" font-size="18.3" text-anchor="start" font-family='"Liberation Serif","Times New Roman",serif' fill="#000" textLength="48.6" lengthAdjust="spacingAndGlyphs" stroke="#000" stroke-width="0.28">spacer</text>
<text x="218.8" y="482.2" font-size="18.3" text-anchor="start" font-family='"Liberation Serif","Times New Roman",serif' fill="#000" textLength="49.6" lengthAdjust="spacingAndGlyphs" stroke="#000" stroke-width="0.28">fabrics</text>
<polygon points="254.9,302.3 282.2,302.3 282.2,296 295.9,309.4 282.2,322.9 282.2,316.4 254.9,316.4" fill="#ff0000"/>
<g>
<polygon points="368.7,91.5 496.2,91.5 439,151 311.5,151" fill="#d9d9d9" stroke="none"/>
<line x1="381.4" y1="91.5" x2="324.2" y2="151" stroke="#222" stroke-width="0.9"/>
<line x1="394.2" y1="91.5" x2="337" y2="151" stroke="#222" stroke-width="0.9"/>
<line x1="406.9" y1="91.5" x2="349.8" y2="151" stroke="#222" stroke-width="1.2"/>
<line x1="419.7" y1="91.5" x2="362.5" y2="151" stroke="#222" stroke-width="0.9"/>
<line x1="432.4" y1="91.5" x2="375.2" y2="151" stroke="#222" stroke-width="0.9"/>
<line x1="445.2" y1="91.5" x2="388" y2="151" stroke="#222" stroke-width="0.9"/>
<line x1="457.9" y1="91.5" x2="400.8" y2="151" stroke="#222" stroke-width="0.9"/>
<line x1="470.7" y1="91.5" x2="413.5" y2="151" stroke="#222" stroke-width="0.9"/>
<line x1="483.4" y1="91.5" x2="426.2" y2="151" stroke="#222" stroke-width="0.9"/>
<line x1="366.2" y1="101.4" x2="484.2" y2="101.4" stroke="#555" stroke-width="1.1"/>
<line x1="353.6" y1="111.3" x2="474.6" y2="111.3" stroke="#555" stroke-width="1.1"/>
<line x1="347.1" y1="121.2" x2="465.1" y2="121.2" stroke="#555" stroke-width="1.1"/>
<line x1="334.6" y1="131.2" x2="455.6" y2="131.2" stroke="#555" stroke-width="1.1"/>
<line x1="328" y1="141.1" x2="446" y2="141.1" stroke="#555" stroke-width="1.1"/>
<polygon points="368.7,91.5 496.2,91.5 439,151 311.5,151" fill="none" stroke="#000" stroke-width="1.2" stroke-linejoin="miter"/>
<polyline points="311.5,151 439,151 496.2,91.5" fill="none" stroke="#111" stroke-width="1.7"/>
<line x1="310.9" y1="151.3" x2="439.6" y2="151.3" stroke="#1c1c1c" stroke-width="1.9"/>
</g>
<g>
<polygon points="367.6,82.5 495,82.5 437.8,141.2 310.4,141.2" fill="#f6f02c" stroke="none"/>
<clipPath id="c21"><polygon points="367.6,82.5 495,82.5 437.8,141.2 310.4,141.2" /></clipPath>
<path d="M352.2 117.2Q354.1 123.6 353 127M407.5 109.9Q406.1 111.8 400.3 114.4M351.4 120.3Q349.4 126.8 342.5 130.5M395.8 101Q395.3 110.9 393.4 116.4M322.3 121.4Q332.7 125.1 343.5 128.4M388.7 105.4Q386.3 108.9 380.7 116.6M349.8 118.8Q358.9 119.7 364.8 123.7M425.9 125.4Q433 131.9 440.1 140.2M432.7 127.6Q434.7 131.1 433.3 138M403 131Q404.4 136.5 403.4 144.8M407.9 112.4Q412 117 417.6 117.4M375.1 113.9Q381.3 115.5 383.3 120.3M418 85.8Q414.4 93 406.2 101.1M444.6 134.4Q436.4 135.5 429.4 139.1M464.1 87.7Q466.7 91.4 467 99.5M352.4 130.4Q358.2 132.8 365 131.5M444.4 88.1Q437.5 95 433.1 97.4M404.9 122.9Q393.1 122.5 382.6 125.5M375.4 118.2Q371.7 126.8 369.9 135M366 120.3Q370.2 127.5 379.3 132.8M486.9 78.3Q482.6 84.9 477.4 94M362.5 134.9Q365.2 134.2 372 138.3M328.5 129.8Q324.4 130.4 320.2 132M328.2 133Q323.6 130.1 320.5 128.8M324.1 135.7Q324.5 129.8 324.6 126M325.8 136.6Q322.3 137.1 319 139.8M326.5 139.7Q322.9 137.6 318.3 136.6M322.9 142Q321.3 137.9 322 134.4M318 134.9Q322.6 137.5 325.1 142M324.1 134.6Q322.1 139.6 319 142.3M327.9 137.4Q321.6 138.6 315.3 139.5M479.9 90.3Q476 89.9 469.8 91.4M477.9 93.1Q475.6 91.5 471.8 88.6M472.3 95.1Q473.7 91.2 477.4 86.6M330.4 131.3Q331.2 134.5 334.1 137.9M335.7 130.6Q333 135.2 328.7 138.7M337 135.2Q332 134.6 327.5 134.1M326.9 138Q333 140 338 140.2M331.7 134.5Q333.1 139.5 333.2 143.7M337.8 136.3Q332.9 138.5 327.1 141.8M347.1 128.5Q344.6 132.1 339.7 138.1M348.3 132.3Q343.2 132.5 338.5 134.3M346 135.8Q342.9 134.4 340.8 130.8M473.8 91.7Q478.6 93.9 484.7 96.9M478.5 89.5Q478.7 95.4 480 99.1M482.7 91.7Q480.1 93.5 475.8 96.9M350 127.5Q350 131.4 347.9 135.4M354.9 130.3Q348.5 130.7 343 132.6M352.5 134.1Q348.2 132.6 345.4 128.9M344.4 137.2Q340.3 136.4 336.3 137.9M344.3 141.3Q339.7 136.4 336.3 133.8M338.9 140.6Q339.9 137.4 341.8 134.5M349.2 130.4Q355 132.1 360.8 135.9M353.6 129.2Q355.1 132.5 356.3 137.1M361.2 130.8Q356 134.1 348.8 135.5M459.2 98.1Q465.8 99.5 471.1 102.5M461.9 95.7Q465.4 100.6 468.4 104.8M469.8 96.6Q464.7 99.7 460.4 104M359.1 129.8Q355.7 132.5 354.4 135.1M361.4 132.3Q356.2 131.4 352.1 132.6M361.2 135.2Q357.2 132.8 352.3 129.7M365.2 129.7Q360.3 131 354.5 131.3M362.7 132.9Q360.6 129.8 357 128.1M359.4 134.4Q359.9 130.8 360.2 126.6M355.7 131.4Q357.7 137.5 358.3 141.7M361.3 135Q357.7 137.5 352.7 138.1M363.2 139.2Q358.1 136.3 350.8 133.9M472 104.5Q469 107.8 465.4 110.6M474.1 109.9Q467.9 108.5 463.3 105.1M469.4 112.8Q468 108.7 467.9 102.2M369.7 134.9Q364.4 137 361.2 139.5M371.3 137.5Q366.2 136.9 359.6 136.9M367.3 139.9Q365.3 137.4 363.6 134.5M358.3 133.7Q364.9 137 371.3 138.5M365.5 132.8Q364.2 135.9 364.2 139.4M371.2 134.5Q365.4 136.5 358.5 137.7M370.1 130.3Q372.1 133.7 373.8 137.2M374.9 129.1Q372.2 134.5 369.1 138.4M378.3 135Q373.2 133.5 365.6 132.5M465.2 104Q463.2 107.1 458.9 111.7M468.6 107.2Q462.8 107.8 455.6 108.6M465.7 110.8Q462.8 107.9 458.4 105M382.8 129Q380.8 133.9 377.2 137.7M384.8 132.7Q380.6 134 375.2 134M381.9 136.5Q380.8 134.3 378 130.1M382 127.5Q379.8 133 378.7 137.6M385 131.8Q379.6 132.5 375.7 133.3M382.7 135.6Q380.8 132.1 378 129.4M383.8 131.8Q388.1 132.9 391.4 134.4M386.9 127.9Q388 132 388.3 138.4M393.4 131.7Q387.5 133.1 381.8 134.6M464 111.7Q461.1 115.8 458.9 118.7M467 115.1Q461.5 114.5 455.9 115.3M463.3 117.9Q461.8 115.1 459.6 112.5M387.9 131Q386.7 136 387.2 139.6M392.4 134Q386.9 134.2 382.7 136.6M391.2 137.3Q387.8 136.1 383.9 133.3M394.6 126.5Q395.7 129.9 395.5 134.6M400.7 129.2Q394.1 130 389.5 131.9M398.4 132.6Q394.3 130.8 391.7 128.5M400.5 131Q398.7 135.6 397.8 138.3M405.9 134.2Q398 134.6 392.4 135.1M401.4 139.4Q399.4 133.9 396.9 129.9M463.9 119.1Q457.4 118.1 450.8 118.8M461.5 122.5Q457.7 118.7 453.2 115.4M455.1 121.6Q456.9 118 459.6 116.3M401 134.3Q397.1 137.8 395.1 140.5M402.7 138.2Q397.7 138.2 393.4 136.5M399.8 142Q398.3 137.3 396.2 132.8M403 130.9Q406.7 132.3 411.2 135.3M408.8 129.2Q406.4 132 405.4 137M413 130.3Q406.7 133.5 401.2 135.9M404.2 131.6Q404.1 135.4 404.6 140.3M410 132.9Q404.8 135.9 398.8 139M411.2 137.4Q405.2 135.1 397.5 134.5M450.7 124.2Q445.1 129.2 440.7 131.7M451.1 127.7Q446.9 127.2 440.4 128.2M449 131.9Q445.2 127.4 442.5 124M421 132.3Q416.4 136.3 409.9 138.8M420.5 137.6Q415.9 135.6 410.3 133.6M415.7 140.3Q415.3 136 415.1 130.9M416.6 128.2Q417.7 130.6 420.8 133.3M421.7 128.6Q419 129.8 415.6 132.9M423.7 131.4Q418.6 131.3 413.7 130.1M422.7 130Q420.6 134.2 417.4 136.8M424.5 134.9Q420.4 132.9 415.6 131.8M421.6 138.5Q419.2 133 418.5 128.3M448.4 127.9Q446.3 129.9 443 134.2M450.2 130.4Q445.3 130.4 441.2 131.7M450.9 134.4Q444.9 131.2 440.5 127.8M426.8 136.5Q423.3 137 418.4 139.3M426.2 140.6Q422 137.3 419 135.3M422.7 143Q423.5 138.5 422.6 132.9M429.6 128.6Q433.8 133.1 436.3 135.2M435 126.6Q433.9 131.8 430.9 137.2M439.7 132.2Q432.2 132.2 426.2 131.6M437.6 136Q431.8 139.2 426.1 140.5M436.7 140.8Q430.9 139 427 135.7M430.4 141.1Q431.4 137.4 433.3 135.4M428.8 135.6Q435.4 138.1 442.3 140.2M433.2 133.7Q435.3 137.7 437.9 142.1M439.1 135.6Q435.1 138.5 432.1 140.2M443.8 128.4Q438.5 129.6 434 131.9M443.5 133Q438 130.2 434.4 127.3M438.9 133.4Q438.2 129.5 439 126.9M445.8 130.6Q441.3 132.8 435.6 134.1M446.3 134.3Q441.3 132.4 435.1 130.4M439.8 137Q441.7 131.8 441.5 127.7M441 136.1Q440.3 138.6 438.5 142.3M445 138Q439.9 138.6 434.6 140.5M446 141.7Q440.1 139.5 433.6 136.7M431.9 140.3Q426.6 141.5 420.5 142.5M430.3 146Q426.8 140.8 422 136.8M424.1 145.2Q426.6 141.8 428.2 137.6" fill="none" stroke="#2a2300" stroke-width="0.9" clip-path="url(#c21)"/>
<polygon points="367.6,82.5 495,82.5 437.8,141.2 310.4,141.2" fill="none" stroke="#000" stroke-width="0.8"/>
<polyline points="310.4,141.2 437.8,141.2 495,82.5" fill="none" stroke="#000" stroke-width="1.6"/>
</g>
<g stroke-linejoin="miter">
<polygon points="441.5,112.9 450.7,118.6 454.7,114 458.8,109.4 462.8,104.8 466.8,100.2 470.9,95.6 474.9,91 479,86.4 483,81.8 487.1,77.2 491.1,72.6 495.1,68 495.5,69.7 495.5,59.4 491.5,59.4" fill="#fbe2d5" stroke="none"/>
<polygon points="441.5,112.9 450.7,118.6 442,125.9" fill="#dcb9ae" stroke="none"/>
<polygon points="441.5,112.9 446.6,117 450.7,118.6 445.7,108.4" fill="#dcb9ae" stroke="none"/>
<polygon points="445.7,108.4 450.7,112.4 454.7,114 449.8,104" fill="#dcb9ae" stroke="none"/>
<polygon points="449.8,104 454.8,107.9 458.8,109.4 454,99.5" fill="#dcb9ae" stroke="none"/>
<polygon points="454,99.5 458.9,103.4 462.8,104.8 458.2,95.1" fill="#dcb9ae" stroke="none"/>
<polygon points="458.2,95.1 463,98.8 466.8,100.2 462.3,90.6" fill="#dcb9ae" stroke="none"/>
<polygon points="462.3,90.6 467.1,94.3 470.9,95.6 466.5,86.2" fill="#dcb9ae" stroke="none"/>
<polygon points="466.5,86.2 471.2,89.8 474.9,91 470.7,81.7" fill="#dcb9ae" stroke="none"/>
<polygon points="470.7,81.7 475.3,85.3 479,86.4 474.8,77.2" fill="#dcb9ae" stroke="none"/>
<polygon points="474.8,77.2 479.4,80.7 483,81.8 479,72.8" fill="#dcb9ae" stroke="none"/>
<polygon points="479,72.8 483.5,76.2 487.1,77.2 483.2,68.3" fill="#dcb9ae" stroke="none"/>
<polygon points="483.2,68.3 487.6,71.7 491.1,72.6 487.3,63.9" fill="#dcb9ae" stroke="none"/>
<polygon points="487.3,63.9 491.7,67.2 495.1,68 491.5,59.4" fill="#dcb9ae" stroke="none"/>
<polyline points="441.5,112.9 450.7,118.6 445.7,108.4 454.7,114 449.8,104 458.8,109.4 454,99.5 462.8,104.8 458.2,95.1 466.8,100.2 462.3,90.6 470.9,95.6 466.5,86.2 474.9,91 470.7,81.7 479,86.4 474.8,77.2 483,81.8 479,72.8 487.1,77.2 483.2,68.3 491.1,72.6 487.3,63.9 495.1,68 491.5,59.4" fill="none" stroke="#000" stroke-width="1.5" stroke-linejoin="miter"/>
<line x1="495.5" y1="58.4" x2="495.5" y2="69.7" stroke="#000" stroke-width="2.2"/>
<line x1="495.5" y1="69.7" x2="498" y2="70" stroke="#000" stroke-width="0.9"/>
<line x1="441.5" y1="125.9" x2="444.5" y2="127.4" stroke="#000" stroke-width="1.2"/>
<polygon points="370.1,59.4 491.5,59.4 441.5,112.9 317.7,112.9" fill="#fbe2d5" stroke="none"/>
<clipPath id="s370_59"><polygon points="370.1,59.4 491.5,59.4 441.5,112.9 317.7,112.9" /></clipPath>
<g clip-path="url(#s370_59)">
<ellipse cx="377.7" cy="65.9" rx="10.9" ry="5.4" fill="#fbe2d5" stroke="#000" stroke-width="1.5"/>
<ellipse cx="401.3" cy="65.9" rx="10.9" ry="5.4" fill="#fbe2d5" stroke="#000" stroke-width="1.5"/>
<ellipse cx="425" cy="65.9" rx="10.9" ry="5.4" fill="#fbe2d5" stroke="#000" stroke-width="1.5"/>
<ellipse cx="448.7" cy="65.9" rx="10.9" ry="5.4" fill="#fbe2d5" stroke="#000" stroke-width="1.5"/>
<ellipse cx="472.3" cy="65.9" rx="10.9" ry="5.4" fill="#fbe2d5" stroke="#000" stroke-width="1.5"/>
<ellipse cx="370.4" cy="73.3" rx="10.9" ry="5.4" fill="#fbe2d5" stroke="#000" stroke-width="1.5"/>
<ellipse cx="394.1" cy="73.3" rx="10.9" ry="5.4" fill="#fbe2d5" stroke="#000" stroke-width="1.5"/>
<ellipse cx="417.8" cy="73.3" rx="10.9" ry="5.4" fill="#fbe2d5" stroke="#000" stroke-width="1.5"/>
<ellipse cx="441.4" cy="73.3" rx="10.9" ry="5.4" fill="#fbe2d5" stroke="#000" stroke-width="1.5"/>
<ellipse cx="465.1" cy="73.3" rx="10.9" ry="5.4" fill="#fbe2d5" stroke="#000" stroke-width="1.5"/>
<ellipse cx="363.2" cy="80.7" rx="10.9" ry="5.4" fill="#fbe2d5" stroke="#000" stroke-width="1.5"/>
<ellipse cx="386.8" cy="80.7" rx="10.9" ry="5.4" fill="#fbe2d5" stroke="#000" stroke-width="1.5"/>
<ellipse cx="410.5" cy="80.7" rx="10.9" ry="5.4" fill="#fbe2d5" stroke="#000" stroke-width="1.5"/>
<ellipse cx="434.2" cy="80.7" rx="10.9" ry="5.4" fill="#fbe2d5" stroke="#000" stroke-width="1.5"/>
<ellipse cx="457.8" cy="80.7" rx="10.9" ry="5.4" fill="#fbe2d5" stroke="#000" stroke-width="1.5"/>
<ellipse cx="355.9" cy="88.1" rx="10.9" ry="5.4" fill="#fbe2d5" stroke="#000" stroke-width="1.5"/>
<ellipse cx="379.6" cy="88.1" rx="10.9" ry="5.4" fill="#fbe2d5" stroke="#000" stroke-width="1.5"/>
<ellipse cx="403.3" cy="88.1" rx="10.9" ry="5.4" fill="#fbe2d5" stroke="#000" stroke-width="1.5"/>
<ellipse cx="426.9" cy="88.1" rx="10.9" ry="5.4" fill="#fbe2d5" stroke="#000" stroke-width="1.5"/>
<ellipse cx="450.6" cy="88.1" rx="10.9" ry="5.4" fill="#fbe2d5" stroke="#000" stroke-width="1.5"/>
<ellipse cx="348.7" cy="95.5" rx="10.9" ry="5.4" fill="#fbe2d5" stroke="#000" stroke-width="1.5"/>
<ellipse cx="372.3" cy="95.5" rx="10.9" ry="5.4" fill="#fbe2d5" stroke="#000" stroke-width="1.5"/>
<ellipse cx="396" cy="95.5" rx="10.9" ry="5.4" fill="#fbe2d5" stroke="#000" stroke-width="1.5"/>
<ellipse cx="419.7" cy="95.5" rx="10.9" ry="5.4" fill="#fbe2d5" stroke="#000" stroke-width="1.5"/>
<ellipse cx="443.3" cy="95.5" rx="10.9" ry="5.4" fill="#fbe2d5" stroke="#000" stroke-width="1.5"/>
<path d="M329.6 109.8H330.7Q337.5 109.8 337.5 108A10.9 5.4 0 1 1 345.4 108Q345.4 109.8 352.1 109.8H353.3" fill="#fbe2d5" stroke="#000" stroke-width="1.5"/>
<path d="M330.7 109.8Q337.5 109.8 337.5 108.6L337.7 109.8Z" fill="#000"/>
<path d="M352.1 109.8Q345.4 109.8 345.4 108.6L345.2 109.8Z" fill="#000"/>
<path d="M353.3 109.8H354.4Q361.2 109.8 361.2 108A10.9 5.4 0 1 1 369 108Q369 109.8 375.8 109.8H376.9" fill="#fbe2d5" stroke="#000" stroke-width="1.5"/>
<path d="M354.4 109.8Q361.2 109.8 361.2 108.6L361.4 109.8Z" fill="#000"/>
<path d="M375.8 109.8Q369 109.8 369 108.6L368.8 109.8Z" fill="#000"/>
<path d="M376.9 109.8H378Q384.8 109.8 384.8 108A10.9 5.4 0 1 1 392.7 108Q392.7 109.8 399.5 109.8H400.6" fill="#fbe2d5" stroke="#000" stroke-width="1.5"/>
<path d="M378 109.8Q384.8 109.8 384.8 108.6L385 109.8Z" fill="#000"/>
<path d="M399.5 109.8Q392.7 109.8 392.7 108.6L392.5 109.8Z" fill="#000"/>
<path d="M400.6 109.8H401.7Q408.5 109.8 408.5 108A10.9 5.4 0 1 1 416.3 108Q416.3 109.8 423.1 109.8H424.2" fill="#fbe2d5" stroke="#000" stroke-width="1.5"/>
<path d="M401.7 109.8Q408.5 109.8 408.5 108.6L408.7 109.8Z" fill="#000"/>
<path d="M423.1 109.8Q416.3 109.8 416.3 108.6L416.1 109.8Z" fill="#000"/>
<path d="M424.2 109.8H425.4Q432.1 109.8 432.1 108A10.9 5.4 0 1 1 440 108Q440 109.8 446.8 109.8H447.9" fill="#fbe2d5" stroke="#000" stroke-width="1.5"/>
<path d="M425.4 109.8Q432.1 109.8 432.1 108.6L432.3 109.8Z" fill="#000"/>
<path d="M446.8 109.8Q440 109.8 440 108.6L439.8 109.8Z" fill="#000"/>
<circle cx="340" cy="107.9" r="2.7" fill="#fbe2d5" stroke="#f4f4f4" stroke-width="1.3"/>
</g>
<line x1="441.5" y1="112.9" x2="491.5" y2="59.4" stroke="#000" stroke-width="1.3"/>
<polyline points="441.5,112.9 317.7,112.9 370.1,59.4 496.3,59.4" fill="none" stroke="#000" stroke-width="2.5" stroke-linejoin="bevel"/>
<polygon points="317.7,112.9 441.5,112.9 441.5,125.9 317.7,125.9" fill="#fbe2d5" stroke="none"/>
<polyline points="319.2,113.9 325.2,124.9 331.3,113.9 337.3,124.9 343.4,113.9 349.4,124.9 355.4,113.9 361.5,124.9 367.5,113.9 373.6,124.9 379.6,113.9 385.6,124.9 391.7,113.9 397.7,124.9 403.8,113.9 409.8,124.9 415.8,113.9 421.9,124.9 427.9,113.9 434,124.9 440,113.9" fill="none" stroke="#000" stroke-width="1.45" stroke-linejoin="miter"/>
<polygon points="317.7,112.9 441.5,112.9 441.5,125.9 317.7,125.9" fill="none" stroke="#000" stroke-width="2.5"/>
</g>
<text x="383" y="179" font-size="18.3" text-anchor="start" font-family='"Liberation Serif","Times New Roman",serif' fill="#000" textLength="36.5" lengthAdjust="spacingAndGlyphs" stroke="#000" stroke-width="0.28">NLC</text>
<g stroke-linejoin="miter">
<polygon points="436.6,279.7 446.7,286.4 450.8,281.7 454.9,277.1 458.9,272.4 463,267.7 467.1,263.1 471.1,258.4 475.2,253.7 479.3,249 483.3,244.4 487.4,239.7 491.5,235 491.2,237.1 491.2,225.6 487.2,225.6" fill="#fbe2d5" stroke="none"/>
<polygon points="436.6,279.7 446.7,286.4 437.1,294.4" fill="#dcb9ae" stroke="none"/>
<polygon points="436.6,279.7 442.2,284.3 446.7,286.4 440.8,275.2" fill="#dcb9ae" stroke="none"/>
<polygon points="440.8,275.2 446.3,279.7 450.8,281.7 445,270.7" fill="#dcb9ae" stroke="none"/>
<polygon points="445,270.7 450.4,275.1 454.9,277.1 449.2,266.2" fill="#dcb9ae" stroke="none"/>
<polygon points="449.2,266.2 454.6,270.5 458.9,272.4 453.5,261.7" fill="#dcb9ae" stroke="none"/>
<polygon points="453.5,261.7 458.7,265.9 463,267.7 457.7,257.2" fill="#dcb9ae" stroke="none"/>
<polygon points="457.7,257.2 462.9,261.3 467.1,263.1 461.9,252.6" fill="#dcb9ae" stroke="none"/>
<polygon points="461.9,252.6 467,256.7 471.1,258.4 466.1,248.1" fill="#dcb9ae" stroke="none"/>
<polygon points="466.1,248.1 471.2,252.1 475.2,253.7 470.3,243.6" fill="#dcb9ae" stroke="none"/>
<polygon points="470.3,243.6 475.3,247.5 479.3,249 474.5,239.1" fill="#dcb9ae" stroke="none"/>
<polygon points="474.5,239.1 479.4,242.9 483.3,244.4 478.8,234.6" fill="#dcb9ae" stroke="none"/>
<polygon points="478.8,234.6 483.6,238.4 487.4,239.7 483,230.1" fill="#dcb9ae" stroke="none"/>
<polygon points="483,230.1 487.7,233.8 491.5,235 487.2,225.6" fill="#dcb9ae" stroke="none"/>
<polyline points="436.6,279.7 446.7,286.4 440.8,275.2 450.8,281.7 445,270.7 454.9,277.1 449.2,266.2 458.9,272.4 453.5,261.7 463,267.7 457.7,257.2 467.1,263.1 461.9,252.6 471.1,258.4 466.1,248.1 475.2,253.7 470.3,243.6 479.3,249 474.5,239.1 483.3,244.4 478.8,234.6 487.4,239.7 483,230.1 491.5,235 487.2,225.6" fill="none" stroke="#000" stroke-width="1.5" stroke-linejoin="miter"/>
<line x1="491.2" y1="224.6" x2="491.2" y2="237.1" stroke="#000" stroke-width="2.2"/>
<line x1="491.2" y1="237.1" x2="493.7" y2="237.4" stroke="#000" stroke-width="0.9"/>
<line x1="436.6" y1="294.4" x2="439.6" y2="295.9" stroke="#000" stroke-width="1.2"/>
<polygon points="365.4,225.6 487.2,225.6 436.6,279.7 312.4,279.7" fill="#fbe2d5" stroke="none"/>
<clipPath id="s365_225"><polygon points="365.4,225.6 487.2,225.6 436.6,279.7 312.4,279.7" /></clipPath>
<g clip-path="url(#s365_225)">
<ellipse cx="373" cy="232.2" rx="11" ry="5.5" fill="#fbe2d5" stroke="#000" stroke-width="1.5"/>
<ellipse cx="396.7" cy="232.2" rx="11" ry="5.5" fill="#fbe2d5" stroke="#000" stroke-width="1.5"/>
<ellipse cx="420.4" cy="232.2" rx="11" ry="5.5" fill="#fbe2d5" stroke="#000" stroke-width="1.5"/>
<ellipse cx="444.2" cy="232.2" rx="11" ry="5.5" fill="#fbe2d5" stroke="#000" stroke-width="1.5"/>
<ellipse cx="467.9" cy="232.2" rx="11" ry="5.5" fill="#fbe2d5" stroke="#000" stroke-width="1.5"/>
<ellipse cx="365.6" cy="239.7" rx="11" ry="5.5" fill="#fbe2d5" stroke="#000" stroke-width="1.5"/>
<ellipse cx="389.4" cy="239.7" rx="11" ry="5.5" fill="#fbe2d5" stroke="#000" stroke-width="1.5"/>
<ellipse cx="413.1" cy="239.7" rx="11" ry="5.5" fill="#fbe2d5" stroke="#000" stroke-width="1.5"/>
<ellipse cx="436.8" cy="239.7" rx="11" ry="5.5" fill="#fbe2d5" stroke="#000" stroke-width="1.5"/>
<ellipse cx="460.6" cy="239.7" rx="11" ry="5.5" fill="#fbe2d5" stroke="#000" stroke-width="1.5"/>
<ellipse cx="358.3" cy="247.2" rx="11" ry="5.5" fill="#fbe2d5" stroke="#000" stroke-width="1.5"/>
<ellipse cx="382" cy="247.2" rx="11" ry="5.5" fill="#fbe2d5" stroke="#000" stroke-width="1.5"/>
<ellipse cx="405.8" cy="247.2" rx="11" ry="5.5" fill="#fbe2d5" stroke="#000" stroke-width="1.5"/>
<ellipse cx="429.5" cy="247.2" rx="11" ry="5.5" fill="#fbe2d5" stroke="#000" stroke-width="1.5"/>
<ellipse cx="453.2" cy="247.2" rx="11" ry="5.5" fill="#fbe2d5" stroke="#000" stroke-width="1.5"/>
<ellipse cx="350.9" cy="254.6" rx="11" ry="5.5" fill="#fbe2d5" stroke="#000" stroke-width="1.5"/>
<ellipse cx="374.7" cy="254.6" rx="11" ry="5.5" fill="#fbe2d5" stroke="#000" stroke-width="1.5"/>
<ellipse cx="398.4" cy="254.6" rx="11" ry="5.5" fill="#fbe2d5" stroke="#000" stroke-width="1.5"/>
<ellipse cx="422.2" cy="254.6" rx="11" ry="5.5" fill="#fbe2d5" stroke="#000" stroke-width="1.5"/>
<ellipse cx="445.9" cy="254.6" rx="11" ry="5.5" fill="#fbe2d5" stroke="#000" stroke-width="1.5"/>
<ellipse cx="343.6" cy="262.1" rx="11" ry="5.5" fill="#fbe2d5" stroke="#000" stroke-width="1.5"/>
<ellipse cx="367.4" cy="262.1" rx="11" ry="5.5" fill="#fbe2d5" stroke="#000" stroke-width="1.5"/>
<ellipse cx="391.1" cy="262.1" rx="11" ry="5.5" fill="#fbe2d5" stroke="#000" stroke-width="1.5"/>
<ellipse cx="414.8" cy="262.1" rx="11" ry="5.5" fill="#fbe2d5" stroke="#000" stroke-width="1.5"/>
<ellipse cx="438.6" cy="262.1" rx="11" ry="5.5" fill="#fbe2d5" stroke="#000" stroke-width="1.5"/>
<path d="M324.4 276.6H325.5Q332.3 276.6 332.3 274.7A11 5.5 0 1 1 340.2 274.7Q340.2 276.6 347 276.6H348.1" fill="#fbe2d5" stroke="#000" stroke-width="1.5"/>
<path d="M325.5 276.6Q332.3 276.6 332.3 275.3L332.5 276.6Z" fill="#000"/>
<path d="M347 276.6Q340.2 276.6 340.2 275.3L340 276.6Z" fill="#000"/>
<path d="M348.1 276.6H349.3Q356.1 276.6 356.1 274.7A11 5.5 0 1 1 364 274.7Q364 276.6 370.8 276.6H371.9" fill="#fbe2d5" stroke="#000" stroke-width="1.5"/>
<path d="M349.3 276.6Q356.1 276.6 356.1 275.3L356.3 276.6Z" fill="#000"/>
<path d="M370.8 276.6Q364 276.6 364 275.3L363.8 276.6Z" fill="#000"/>
<path d="M371.9 276.6H373Q379.8 276.6 379.8 274.7A11 5.5 0 1 1 387.7 274.7Q387.7 276.6 394.5 276.6H395.6" fill="#fbe2d5" stroke="#000" stroke-width="1.5"/>
<path d="M373 276.6Q379.8 276.6 379.8 275.3L380 276.6Z" fill="#000"/>
<path d="M394.5 276.6Q387.7 276.6 387.7 275.3L387.5 276.6Z" fill="#000"/>
<path d="M395.6 276.6H396.7Q403.5 276.6 403.5 274.7A11 5.5 0 1 1 411.4 274.7Q411.4 276.6 418.2 276.6H419.4" fill="#fbe2d5" stroke="#000" stroke-width="1.5"/>
<path d="M396.7 276.6Q403.5 276.6 403.5 275.3L403.7 276.6Z" fill="#000"/>
<path d="M418.2 276.6Q411.4 276.6 411.4 275.3L411.2 276.6Z" fill="#000"/>
<path d="M419.4 276.6H420.5Q427.3 276.6 427.3 274.7A11 5.5 0 1 1 435.2 274.7Q435.2 276.6 442 276.6H443.1" fill="#fbe2d5" stroke="#000" stroke-width="1.5"/>
<path d="M420.5 276.6Q427.3 276.6 427.3 275.3L427.5 276.6Z" fill="#000"/>
<path d="M442 276.6Q435.2 276.6 435.2 275.3L435 276.6Z" fill="#000"/>
<circle cx="334.9" cy="274.6" r="2.7" fill="#fbe2d5" stroke="#f4f4f4" stroke-width="1.3"/>
</g>
<line x1="436.6" y1="279.7" x2="487.2" y2="225.6" stroke="#000" stroke-width="1.3"/>
<polyline points="436.6,279.7 312.4,279.7 365.4,225.6 492,225.6" fill="none" stroke="#000" stroke-width="2.5" stroke-linejoin="bevel"/>
<polygon points="312.4,279.7 436.6,279.7 436.6,294.4 312.4,294.4" fill="#fbe2d5" stroke="none"/>
<polyline points="313.9,280.7 320,293.4 326,280.7 332.1,293.4 338.1,280.7 344.2,293.4 350.3,280.7 356.3,293.4 362.4,280.7 368.4,293.4 374.5,280.7 380.6,293.4 386.6,280.7 392.7,293.4 398.7,280.7 404.8,293.4 410.9,280.7 416.9,293.4 423,280.7 429,293.4 435.1,280.7" fill="none" stroke="#000" stroke-width="1.45" stroke-linejoin="miter"/>
<polygon points="312.4,279.7 436.6,279.7 436.6,294.4 312.4,294.4" fill="none" stroke="#000" stroke-width="2.5"/>
</g>
<g>
<polygon points="365.9,211.2 493.8,211.2 436.7,269.8 308.8,269.8" fill="#f6f02c" stroke="none"/>
<clipPath id="c31"><polygon points="365.9,211.2 493.8,211.2 436.7,269.8 308.8,269.8" /></clipPath>
<path d="M358.7 218Q365.3 219.8 367.4 221.3M366.4 216.1Q365.4 217.3 359.6 223.1M363.1 221.2Q363.1 224.1 362.1 230.8M371 220.1Q361.8 224.5 354.2 231.9M378.4 242.7Q383.6 246 388.1 248.7M432.9 256.9Q439.5 258.1 443.2 260.6M352.7 237.8Q351.4 243.3 347.1 246.6M342.3 237.9Q348.5 239.9 357.5 246.4M389.8 224.1Q389.4 230.1 390.8 239.1M394 228.6Q391.6 233.6 386.6 234.5M379.9 262.6Q387.7 264.5 391.3 265.4M441.8 214.5Q447.7 220.6 450.3 222.9M440.4 217Q445.2 218.2 451.7 220.4M324.5 249.1Q333.9 250.5 347.1 254.9M369.6 245.4Q371.7 250.9 370.9 258.6M387.3 243.7Q381.5 247.1 372.7 249.5M376.6 252.4Q386.2 257.5 390.9 264.1M347.1 224.4Q347.2 234.1 351.1 243.2M401.9 257.6Q394.6 264.3 383.6 269M400.3 240.5Q405.3 242.7 409.3 246.8M410.6 240.7Q404.1 243.8 398.9 246.6M404.1 218Q397.4 225.6 394.1 229.7M351.4 230.2Q357.9 238.4 367.4 242.7M380.7 238.9Q371.2 245.8 366.3 251.5M459.5 219.8Q460.1 225.2 463.5 235.1M378.1 248.1Q384.6 251 389.2 255.2M322.5 255.6Q326.3 259.8 330.1 261.9M327 255.3Q325.2 258.7 325.6 262.2M331.6 257.2Q325.1 257.5 321 260.3M316.6 261.5Q318.9 266.3 321.5 269.8M320.8 261.2Q319.9 265.7 317.4 270M323.3 265Q319.3 264.9 314.8 266.3M329.8 263.1Q324.9 263 318.2 263.9M328.4 266.9Q324.2 262.8 319.6 260M322 268.4Q323.4 264 326 258.5M476.2 215.4Q473.4 219.2 469.2 225.2M478.4 220Q473.9 219.4 467 220.6M476 223.2Q471.6 220.1 469.5 217.3M325.6 261.4Q332.1 262.4 338.9 263.5M331.7 257.7Q333.2 263.3 332.8 267.2M336.8 260.6Q331.5 261.5 327.7 264.3M343.8 255.1Q341.4 258.4 339.6 262.2M348.1 258.2Q342.5 257.5 335.3 259M345.3 261.8Q341.5 259.4 338 255.5M339.7 264.8Q335.4 267.8 330.7 269.5M339.6 267.8Q335.4 268 330.8 266.5M335.7 270.5Q334.9 266.5 334.7 263.8M469.2 222.1Q470.7 226 472.5 229.1M473.9 223Q470.2 225.1 467.8 228.3M474.9 227.2Q471.5 224.7 466.8 224M350.9 258.6Q346.8 261.4 344.6 262.9M353 262.3Q347.4 261.2 342.4 259.2M348.5 263.8Q348 260.3 347 257.6M352.5 259.7Q348.7 264.4 344.4 267.4M353.6 265.8Q348.7 264.2 343.3 261.3M350.2 267.8Q349.1 263.8 346.7 259.3M349.9 266Q346 265.8 341.5 267.2M347.7 270.6Q345.8 267.4 343.7 262.6M343.1 269.3Q345.6 265.8 348.4 263.9M476.2 224.8Q472.3 227.3 466.5 228.3M476.2 228.9Q471.7 225.8 466.5 224.2M471.7 231.8Q470.5 227.1 471 221.3M353.8 259.1Q354.8 264.9 357.8 268.8M358.8 260.9Q355 263 352.8 267M362.6 265Q355.4 263.2 349 263M350.8 259.7Q355.4 261.2 358.4 264.7M356.7 258.1Q353.8 261.1 352.6 266.3M358.9 261.1Q355.8 263.1 350.4 263.3M353.9 262.9Q358.6 268.1 362.7 271.2M360.6 263.3Q358.9 268 356.1 270.8M363.2 266.3Q357.2 267.2 353.5 267.7M463.9 231.7Q468.3 235.2 474.5 236.7M469.4 229.9Q468.9 233.4 469.1 238.5M473.6 232Q468.6 234.6 464.9 236.4M369.7 267Q362.9 267.4 356.8 268.2M367.4 272.2Q362.1 267.5 359.1 263M360.9 272.4Q364.3 267.5 365.5 262.8M367 259.3Q364.5 264.1 362.2 268.7M368.6 263.6Q363.9 264.5 360.5 264.4M368.3 268.7Q364 265.1 360.8 259.3M366 260.5Q371 263.7 375.2 264.7M369.3 258Q370.8 262 371.9 267.2M375.8 258.7Q371 262.9 365.4 266.4M450.9 237.1Q452.7 242.4 454.8 245.5M457 237.7Q453.5 242.3 448.7 244.9M458 241.5Q453.9 241.6 447.7 241.1M368.9 266.1Q373.5 266.8 377.2 267.6M371.7 262.8Q372.5 267.4 374.4 270.9M377.6 264.8Q373.9 265.8 368.5 268.9M380.7 258.4Q383.7 258.7 388.7 260.9M383.2 254.6Q384.2 258.7 386.2 264.7M390.6 256.9Q385.9 258.5 378.8 262.3M388.5 262.4Q380.7 262.3 374.3 262.4M383.5 265.6Q381.5 263.2 379.3 259.2M377.5 266.2Q382.2 263.6 385.3 258.6M450.4 240.7Q457 243.4 463.2 245.6M459.1 238.7Q456.6 243.4 454.6 247.7M461 241.2Q456.5 243.9 452.7 245.1M387.8 260.4Q388.8 263.8 392 267.8M395.4 261Q389.3 264.1 384.4 267.2M394.4 265.2Q389.5 264.3 385.4 263M379.6 266Q385.5 266.6 391.8 268.3M383.9 262.5Q385 266.7 387.5 271.8M388 262.8Q385.5 266.7 383.4 271.5M393.6 257.6Q400.2 260.8 405.4 263.6M399.7 255.3Q398.4 260.1 399.3 265.9M404.6 257.5Q399.1 261.2 394.3 263.7M443 247.6Q444.8 252.4 445 256.8M447.6 249Q444.2 251.2 440.5 255.4M448.5 254Q445 251.9 439.5 250.4M402 262.4Q401.9 265.5 403.8 268.2M406 262Q403.4 265.2 399.8 268.6M409.3 266.5Q403.7 264.3 396.5 264.1M400.4 263.8Q403.5 265.7 408.6 267.2M406.9 261.6Q404 264.7 402.1 269.4M410.4 265.1Q403.9 266.5 398.6 265.9M401.1 264.4Q400.4 268.6 401.9 271.4M407 265.2Q402.3 267.7 396 270.6M407 270.5Q401.9 267.6 396 265.3M435.4 253.4Q442.2 253.9 447.8 254.6M439.6 249.8Q442.4 254.1 443.6 258.2M445.4 250.4Q440.9 253 437.8 257.6M414.8 261.6Q414.2 265 412.6 268.4M417.1 262.9Q412.5 264.2 410.2 267.1M418 267.7Q412.6 265 409.3 262.3M413.9 262.7Q416.3 266.3 420.1 269.1M418 261.8Q418 266.5 416 270.1M423.9 265.8Q418.1 265.4 410.1 266M417.5 262.7Q418.6 268.2 419.8 271.3M423.7 264Q419.2 267.2 413.5 270M425.2 269.1Q418 267.8 412 264.9M438.8 260.5Q442.3 260.3 447.3 260.8M440.9 255.8Q442 261.2 445.2 265.5M446.1 256.4Q441.9 260.3 440 264.9M417.3 266.2Q423.7 266.7 431.6 267.4M422.2 263.4Q424.4 265.9 426.8 270.1M428.1 262Q425.1 267 420.8 271.6M429.4 256.7Q428.8 259.1 426 262.1M433.7 258.2Q428.7 259 421.7 260.6M430.2 261.9Q427.6 260.4 425.1 256.9M440.5 260.8Q436.3 261 430.5 262.3M440.2 265.6Q436.6 261.3 430.7 257.6M434.3 266.3Q435.7 260.5 436.6 256.8M438.4 263Q434.2 267.1 429.4 271.8M438.5 267.2Q433.2 268.6 429.3 267.7M437.2 270.8Q434.8 268.1 430.6 264M432.7 257.2Q433.2 263 433.1 267.2M436.7 260.2Q432.4 262.2 429.1 264.2M438 264.3Q432.5 261.1 427.8 260.1M448 261.9Q441.6 263.5 434.7 265M444.4 266.7Q442.5 263.7 438.3 260.3M439.5 266.4Q441.4 263 443.2 260.5M444.3 265.6Q441.7 266.5 436.9 268.7M445 270.3Q441.2 267.7 436.2 264M440.9 271.2Q440.3 267.6 440.3 263.1M428.1 270.4Q427.8 274 427.7 277.1M431.8 272.8Q427.2 274.1 424 274.7M433.1 277.6Q427 274.3 422.7 269.9" fill="none" stroke="#2a2300" stroke-width="0.9" clip-path="url(#c31)"/>
<polygon points="365.9,211.2 493.8,211.2 436.7,269.8 308.8,269.8" fill="none" stroke="#000" stroke-width="0.8"/>
<polyline points="308.8,269.8 436.7,269.8 493.8,211.2" fill="none" stroke="#000" stroke-width="1.6"/>
</g>
<g stroke-linejoin="miter">
<polygon points="439.5,242.9 449.3,249.3 453.3,244.6 457.3,239.9 461.4,235.3 465.4,230.6 469.4,226 473.5,221.3 477.5,216.7 481.5,212 485.6,207.4 489.6,202.7 493.6,198.1 493.8,199.8 493.8,189.2 489.8,189.2" fill="#fbe2d5" stroke="none"/>
<polygon points="439.5,242.9 449.3,249.3 440,257" fill="#dcb9ae" stroke="none"/>
<polygon points="439.5,242.9 444.9,247.3 449.3,249.3 443.7,238.4" fill="#dcb9ae" stroke="none"/>
<polygon points="443.7,238.4 449,242.7 453.3,244.6 447.9,233.9" fill="#dcb9ae" stroke="none"/>
<polygon points="447.9,233.9 453.1,238.1 457.3,239.9 452.1,229.5" fill="#dcb9ae" stroke="none"/>
<polygon points="452.1,229.5 457.2,233.6 461.4,235.3 456.3,225" fill="#dcb9ae" stroke="none"/>
<polygon points="456.3,225 461.3,229 465.4,230.6 460.5,220.5" fill="#dcb9ae" stroke="none"/>
<polygon points="460.5,220.5 465.4,224.5 469.4,226 464.7,216" fill="#dcb9ae" stroke="none"/>
<polygon points="464.7,216 469.6,219.9 473.5,221.3 468.8,211.6" fill="#dcb9ae" stroke="none"/>
<polygon points="468.8,211.6 473.7,215.3 477.5,216.7 473,207.1" fill="#dcb9ae" stroke="none"/>
<polygon points="473,207.1 477.8,210.8 481.5,212 477.2,202.6" fill="#dcb9ae" stroke="none"/>
<polygon points="477.2,202.6 481.9,206.2 485.6,207.4 481.4,198.1" fill="#dcb9ae" stroke="none"/>
<polygon points="481.4,198.1 486,201.6 489.6,202.7 485.6,193.7" fill="#dcb9ae" stroke="none"/>
<polygon points="485.6,193.7 490.1,197.1 493.6,198.1 489.8,189.2" fill="#dcb9ae" stroke="none"/>
<polyline points="439.5,242.9 449.3,249.3 443.7,238.4 453.3,244.6 447.9,233.9 457.3,239.9 452.1,229.5 461.4,235.3 456.3,225 465.4,230.6 460.5,220.5 469.4,226 464.7,216 473.5,221.3 468.8,211.6 477.5,216.7 473,207.1 481.5,212 477.2,202.6 485.6,207.4 481.4,198.1 489.6,202.7 485.6,193.7 493.6,198.1 489.8,189.2" fill="none" stroke="#000" stroke-width="1.5" stroke-linejoin="miter"/>
<line x1="493.8" y1="188.2" x2="493.8" y2="199.8" stroke="#000" stroke-width="2.2"/>
<line x1="493.8" y1="199.8" x2="496.3" y2="200.1" stroke="#000" stroke-width="0.9"/>
<line x1="439.5" y1="257" x2="442.5" y2="258.5" stroke="#000" stroke-width="1.2"/>
<polygon points="367.6,189.2 489.8,189.2 439.5,242.9 314.9,242.9" fill="#fbe2d5" stroke="none"/>
<clipPath id="s367_189"><polygon points="367.6,189.2 489.8,189.2 439.5,242.9 314.9,242.9" /></clipPath>
<g clip-path="url(#s367_189)">
<ellipse cx="375.2" cy="195.7" rx="11" ry="5.4" fill="#fbe2d5" stroke="#000" stroke-width="1.5"/>
<ellipse cx="399" cy="195.7" rx="11" ry="5.4" fill="#fbe2d5" stroke="#000" stroke-width="1.5"/>
<ellipse cx="422.9" cy="195.7" rx="11" ry="5.4" fill="#fbe2d5" stroke="#000" stroke-width="1.5"/>
<ellipse cx="446.7" cy="195.7" rx="11" ry="5.4" fill="#fbe2d5" stroke="#000" stroke-width="1.5"/>
<ellipse cx="470.5" cy="195.7" rx="11" ry="5.4" fill="#fbe2d5" stroke="#000" stroke-width="1.5"/>
<ellipse cx="367.9" cy="203.2" rx="11" ry="5.4" fill="#fbe2d5" stroke="#000" stroke-width="1.5"/>
<ellipse cx="391.8" cy="203.2" rx="11" ry="5.4" fill="#fbe2d5" stroke="#000" stroke-width="1.5"/>
<ellipse cx="415.6" cy="203.2" rx="11" ry="5.4" fill="#fbe2d5" stroke="#000" stroke-width="1.5"/>
<ellipse cx="439.4" cy="203.2" rx="11" ry="5.4" fill="#fbe2d5" stroke="#000" stroke-width="1.5"/>
<ellipse cx="463.2" cy="203.2" rx="11" ry="5.4" fill="#fbe2d5" stroke="#000" stroke-width="1.5"/>
<ellipse cx="360.6" cy="210.6" rx="11" ry="5.4" fill="#fbe2d5" stroke="#000" stroke-width="1.5"/>
<ellipse cx="384.5" cy="210.6" rx="11" ry="5.4" fill="#fbe2d5" stroke="#000" stroke-width="1.5"/>
<ellipse cx="408.3" cy="210.6" rx="11" ry="5.4" fill="#fbe2d5" stroke="#000" stroke-width="1.5"/>
<ellipse cx="432.1" cy="210.6" rx="11" ry="5.4" fill="#fbe2d5" stroke="#000" stroke-width="1.5"/>
<ellipse cx="455.9" cy="210.6" rx="11" ry="5.4" fill="#fbe2d5" stroke="#000" stroke-width="1.5"/>
<ellipse cx="353.4" cy="218" rx="11" ry="5.4" fill="#fbe2d5" stroke="#000" stroke-width="1.5"/>
<ellipse cx="377.2" cy="218" rx="11" ry="5.4" fill="#fbe2d5" stroke="#000" stroke-width="1.5"/>
<ellipse cx="401" cy="218" rx="11" ry="5.4" fill="#fbe2d5" stroke="#000" stroke-width="1.5"/>
<ellipse cx="424.8" cy="218" rx="11" ry="5.4" fill="#fbe2d5" stroke="#000" stroke-width="1.5"/>
<ellipse cx="448.6" cy="218" rx="11" ry="5.4" fill="#fbe2d5" stroke="#000" stroke-width="1.5"/>
<ellipse cx="346.1" cy="225.5" rx="11" ry="5.4" fill="#fbe2d5" stroke="#000" stroke-width="1.5"/>
<ellipse cx="369.9" cy="225.5" rx="11" ry="5.4" fill="#fbe2d5" stroke="#000" stroke-width="1.5"/>
<ellipse cx="393.7" cy="225.5" rx="11" ry="5.4" fill="#fbe2d5" stroke="#000" stroke-width="1.5"/>
<ellipse cx="417.5" cy="225.5" rx="11" ry="5.4" fill="#fbe2d5" stroke="#000" stroke-width="1.5"/>
<ellipse cx="441.3" cy="225.5" rx="11" ry="5.4" fill="#fbe2d5" stroke="#000" stroke-width="1.5"/>
<path d="M326.9 239.8H328Q334.8 239.8 334.8 237.9A11 5.4 0 1 1 342.7 237.9Q342.7 239.8 349.6 239.8H350.7" fill="#fbe2d5" stroke="#000" stroke-width="1.5"/>
<path d="M328 239.8Q334.8 239.8 334.8 238.5L335 239.8Z" fill="#000"/>
<path d="M349.6 239.8Q342.7 239.8 342.7 238.5L342.5 239.8Z" fill="#000"/>
<path d="M350.7 239.8H351.8Q358.6 239.8 358.6 237.9A11 5.4 0 1 1 366.5 237.9Q366.5 239.8 373.4 239.8H374.5" fill="#fbe2d5" stroke="#000" stroke-width="1.5"/>
<path d="M351.8 239.8Q358.6 239.8 358.6 238.5L358.8 239.8Z" fill="#000"/>
<path d="M373.4 239.8Q366.5 239.8 366.5 238.5L366.3 239.8Z" fill="#000"/>
<path d="M374.5 239.8H375.6Q382.4 239.8 382.4 237.9A11 5.4 0 1 1 390.4 237.9Q390.4 239.8 397.2 239.8H398.3" fill="#fbe2d5" stroke="#000" stroke-width="1.5"/>
<path d="M375.6 239.8Q382.4 239.8 382.4 238.5L382.6 239.8Z" fill="#000"/>
<path d="M397.2 239.8Q390.4 239.8 390.4 238.5L390.2 239.8Z" fill="#000"/>
<path d="M398.3 239.8H399.4Q406.2 239.8 406.2 237.9A11 5.4 0 1 1 414.2 237.9Q414.2 239.8 421 239.8H422.1" fill="#fbe2d5" stroke="#000" stroke-width="1.5"/>
<path d="M399.4 239.8Q406.2 239.8 406.2 238.5L406.4 239.8Z" fill="#000"/>
<path d="M421 239.8Q414.2 239.8 414.2 238.5L414 239.8Z" fill="#000"/>
<path d="M422.1 239.8H423.2Q430.1 239.8 430.1 237.9A11 5.4 0 1 1 438 237.9Q438 239.8 444.8 239.8H445.9" fill="#fbe2d5" stroke="#000" stroke-width="1.5"/>
<path d="M423.2 239.8Q430.1 239.8 430.1 238.5L430.3 239.8Z" fill="#000"/>
<path d="M444.8 239.8Q438 239.8 438 238.5L437.8 239.8Z" fill="#000"/>
<circle cx="337.4" cy="237.9" r="2.7" fill="#fbe2d5" stroke="#f4f4f4" stroke-width="1.3"/>
</g>
<line x1="439.5" y1="242.9" x2="489.8" y2="189.2" stroke="#000" stroke-width="1.3"/>
<polyline points="439.5,242.9 314.9,242.9 367.6,189.2 494.6,189.2" fill="none" stroke="#000" stroke-width="2.5" stroke-linejoin="bevel"/>
<polygon points="314.9,242.9 439.5,242.9 439.5,257 314.9,257" fill="#fbe2d5" stroke="none"/>
<polyline points="316.4,243.9 322.5,256 328.6,243.9 334.6,256 340.7,243.9 346.8,256 352.9,243.9 359,256 365,243.9 371.1,256 377.2,243.9 383.3,256 389.4,243.9 395.4,256 401.5,243.9 407.6,256 413.7,243.9 419.8,256 425.8,243.9 431.9,256 438,243.9" fill="none" stroke="#000" stroke-width="1.45" stroke-linejoin="miter"/>
<polygon points="314.9,242.9 439.5,242.9 439.5,257 314.9,257" fill="none" stroke="#000" stroke-width="2.5"/>
</g>
<text x="383" y="316.6" font-size="18.3" text-anchor="start" font-family='"Liberation Serif","Times New Roman",serif' fill="#000" textLength="36" lengthAdjust="spacingAndGlyphs" stroke="#000" stroke-width="0.28">NLN</text>
<g>
<polygon points="369.8,359.9 497.5,359.9 439.9,418.8 312.2,418.8" fill="url(#cg)" stroke="none"/>
<line x1="382.6" y1="359.9" x2="325" y2="418.8" stroke="#222" stroke-width="0.9"/>
<line x1="395.3" y1="359.9" x2="337.7" y2="418.8" stroke="#222" stroke-width="0.9"/>
<line x1="408.1" y1="359.9" x2="350.5" y2="418.8" stroke="#222" stroke-width="1.2"/>
<line x1="420.9" y1="359.9" x2="363.3" y2="418.8" stroke="#222" stroke-width="0.9"/>
<line x1="433.7" y1="359.9" x2="376.1" y2="418.8" stroke="#222" stroke-width="0.9"/>
<line x1="446.4" y1="359.9" x2="388.8" y2="418.8" stroke="#222" stroke-width="0.9"/>
<line x1="459.2" y1="359.9" x2="401.6" y2="418.8" stroke="#222" stroke-width="0.9"/>
<line x1="472" y1="359.9" x2="414.4" y2="418.8" stroke="#222" stroke-width="0.9"/>
<line x1="484.7" y1="359.9" x2="427.1" y2="418.8" stroke="#222" stroke-width="0.9"/>
<line x1="367.2" y1="369.7" x2="485.4" y2="369.7" stroke="#555" stroke-width="1.1"/>
<line x1="354.6" y1="379.5" x2="475.8" y2="379.5" stroke="#555" stroke-width="1.1"/>
<line x1="348" y1="389.3" x2="466.2" y2="389.3" stroke="#555" stroke-width="1.1"/>
<line x1="335.4" y1="399.2" x2="456.6" y2="399.2" stroke="#555" stroke-width="1.1"/>
<line x1="328.8" y1="409" x2="447" y2="409" stroke="#555" stroke-width="1.1"/>
<polygon points="369.8,359.9 497.5,359.9 439.9,418.8 312.2,418.8" fill="none" stroke="#000" stroke-width="1.2" stroke-linejoin="miter"/>
<polyline points="312.2,418.8 439.9,418.8 497.5,359.9" fill="none" stroke="#111" stroke-width="1.7"/>
<line x1="311.6" y1="419.1" x2="440.5" y2="419.1" stroke="#1c1c1c" stroke-width="1.9"/>
</g>
<g>
<polygon points="366.2,350.6 493.8,350.6 436.6,408.5 309,408.5" fill="#f6f02c" stroke="none"/>
<clipPath id="c41"><polygon points="366.2,350.6 493.8,350.6 436.6,408.5 309,408.5" /></clipPath>
<path d="M408.3 363.4Q403.3 364.1 394.3 367M363.4 393.5Q357.8 398 348.8 403.1M370.3 357.1Q379.1 358.7 386.6 364.7M465.4 352.3Q461.2 355.8 454.7 357M342.2 387.2Q349.5 387 352.8 390M389.8 360.5Q389.8 366.7 385.9 369.3M393.5 353.4Q396.2 360.2 398.9 367.9M370.6 359.1Q363.4 359 355.8 361.1M358.6 359.8Q363.1 358.5 367.8 360.4M436.6 390.7Q428.8 390.6 417.1 391.4M450 353.5Q450.6 356.1 446.8 361.4M445.1 351.7Q449.5 358.9 451.7 363.2M348.7 387.4Q341.9 389.5 336.3 389.7M439 380.5Q430.4 384.4 424.8 391.7M355.8 361.5Q362.3 360.8 368.1 363.5M401.9 361.8Q396.4 363.5 388.5 368.4M449.9 371Q437.5 374.3 429.8 376.6M443.9 377.8Q449.4 384.6 450.3 396M417.3 382.2Q413.2 388.9 405 397.6M350.5 393.9Q339.9 398.8 331.5 402.9M354.5 393.5Q361.8 395.3 369.8 397.3M460.6 359.2Q462.4 366.2 461 377.7M323.4 399.4Q319.9 404.7 318 408.5M325.9 404.1Q319.9 404.9 315.4 403.8M324.2 408.5Q320.7 403.1 317.1 399.4M319.1 401.2Q322.7 402.8 328.7 403.1M322.2 398.3Q323.1 402.2 325.6 405.9M327.8 398.3Q323.9 402.3 320 406M325 396.1Q331.4 399.6 336.3 401.4M330.8 393.9Q329.7 398.5 330.6 403.7M336 395.5Q331.9 399.2 325.4 402.1M487.3 353.5Q483.5 357.4 480.4 359.5M488.3 357.3Q482.9 357.3 479.4 355.7M485.4 361.8Q483.4 357.3 482.3 351.3M331.3 406.3Q325.9 406.8 318.6 405.3M326.8 409.3Q325.8 406.5 323.1 402.3M323.3 409Q325.9 405.7 326.6 402.6M329.8 400.9Q331 405.1 332 410.4M337.3 403.2Q330.3 406.4 324.6 408.1M335.7 408.1Q330.2 406 326.1 403.2M341.5 397.6Q338.7 400.6 334.2 401.2M342.6 401.3Q338 400 333.1 397.5M339 404Q337.2 400.4 336.7 394.8M471.5 361.7Q471.1 364.3 472.1 367.9M475.2 362.4Q471.6 363.8 468.4 367.1M478.6 366.9Q472.6 365.1 465 362.6M346.8 401.1Q346 405 343.4 407.1M351.5 404.3Q345.8 405.2 338.7 403.8M347.6 408.7Q343.9 405.2 342.6 399.4M345.7 398.4Q347.4 401.7 348.4 404.3M351.3 397Q348.1 402.2 342.9 405.8M352.1 402.7Q347 401.1 342 400.1M354.3 404.6Q349.3 405.5 343.3 407.3M355.1 409Q348.3 405.4 342.5 403M348 409.1Q348.9 405.2 349.7 402.8M480.8 362.1Q476.6 366.6 470.8 368.9M483 367Q475 365.1 468.6 364.1M477.8 369.6Q474.8 365.6 473.9 361.5M357.7 399.2Q355.4 405.7 353.8 410M360.7 403.7Q356.8 405.2 350.9 405.5M359.5 407.7Q355.9 404 352 401.5M359.2 393.8Q359.2 397.4 359.3 401.7M364.9 395.1Q358.4 396.8 353.5 400.4M363.6 399.6Q359.2 398.6 354.9 395.9M366.2 403.5Q360.4 404.5 356.5 406.4M365.1 407.2Q360.9 406 357.6 402.7M359.3 410.1Q361.4 405.6 363.3 399.8M471.8 372.6Q465.5 372.5 460.5 374.3M470 376.3Q465.3 374.5 462.3 370.6M465.9 377.6Q465.5 373.2 466.4 369.3M363.2 401.2Q364.2 406.2 366.3 411.6M369.2 402.4Q364.3 407.4 360.3 410.4M371.1 406.6Q365.1 405.3 358.4 406.2M361.6 401.5Q364.6 405.1 367.3 408.8M369.2 401Q364.9 405 359.8 409.3M371 406.1Q363.8 405.1 357.9 404.2M372.2 396.7Q379.1 398.2 384.5 398.9M378.4 394.7Q378.1 397.7 378.4 400.9M382.2 395.6Q378.1 397.2 374.5 400.1M448.8 378.4Q454.9 379.1 459.6 378.8M452.4 375.9Q454.7 379.1 456 381.3M458.8 374.2Q454.2 378.4 449.5 383M383.4 393.3Q382.3 398.4 380.7 402.6M388.3 396.6Q383.1 399.1 375.8 399.3M384.3 400.9Q382.7 397.2 379.8 395M385.3 397.2Q390.6 398.3 393.8 397.2M385.6 392.9Q389.2 398 393.5 401.6M392.3 392.2Q389.4 396.6 386.8 402.3M382 396.5Q389.3 397 394.2 397.4M385.8 393.7Q386.9 397.9 390.4 400.2M391.4 394.2Q388.7 397.4 384.8 399.7M462.7 382.3Q455.4 383.1 449.6 384.2M461.7 386.8Q456.1 383.2 450.6 379.7M456.5 386.4Q455.6 383.7 455.7 380.1M386.5 400.2Q385.4 403.2 382.6 408.5M391.2 404.3Q385.7 403.9 377.9 404.4M388 408.8Q384.1 405 381.1 399.9M387.6 402.4Q390.6 407.3 392.8 410.2M394.9 403.6Q391.1 407.1 385.6 409M394.9 407.4Q389 406.5 385.5 405.1M398.9 399.6Q393.1 400 386.2 401.1M396 405Q393.1 400 389.1 395.7M388.3 403.9Q391.9 401.1 396.8 396.9M455.4 389.3Q451 391.4 445.4 392.2M454 393Q451.5 390.9 446.7 388.5M449.1 395Q451.1 391 451.6 386.5M405.1 398.4Q400 402.4 393.7 405.1M405.1 404.1Q399.7 401.5 393.7 399.4M401.1 406Q399.9 401.9 397.7 397.5M398.8 401.1Q401.8 401.3 406.6 403.5M402.9 396.9Q403 403.4 402.5 407.7M406.8 398.7Q402.6 401.4 398.6 405.9M407.7 395.7Q412.3 398 415.1 400.4M413.1 394.9Q410.6 397.1 409.7 401.1M417.4 397.7Q412 398.2 405.4 398.3M440.2 388.7Q442.3 393.9 442.9 398.2M446.6 390.2Q440.4 392.5 436.5 396.8M448.6 392.8Q440.9 393.4 434.5 394.2M413.9 396.1Q416.9 399.1 418.4 402.2M418.4 395.5Q416.6 399.6 413.9 402.8M421.1 398.3Q416 399.7 411.2 399.9M412.1 394.9Q413.6 399.9 416.3 403M418.3 394.6Q413.9 400 410.1 403.3M419.4 399.3Q413.4 399.7 409 398.6M417.2 401.6Q413 404 407.9 408.4M418.7 408Q412.2 405.1 406.5 402M413.1 408.6Q411.8 405.4 412 401.4M441.1 397Q446.9 396.8 450.9 397.7M442.7 394.4Q445.8 397.2 449.2 400.3M448.6 394.1Q447.1 396.2 443.4 400.5M414.1 403.1Q419.1 405.8 423.6 406.9M420 401.6Q419.8 404.2 417.7 408.3M425.6 403.6Q417.9 404.7 412 406.3M430.8 398.9Q424 401 419.4 404M430.6 404.1Q425.7 400.7 419.6 398.8M427 405.5Q425.4 400.6 423.2 397.4M438.1 402.5Q432.1 403.4 427.3 402.7M436.8 405.9Q433.2 403.7 428.5 399.2M431 406.6Q433.5 401.5 434.4 398.5M436.9 399.5Q433.5 402.2 431.6 406.7M440.3 403.2Q435.3 402.5 428.2 403M437.6 405.5Q434.6 403.2 430.9 400.7M433.7 398.9Q439.2 402.3 442.6 406.5M440.6 398.7Q437.9 403.3 435.7 406.7M443.9 402.7Q437.9 402.1 432.5 402.7M432.8 403.5Q437.8 406.1 443.6 409M439 402.5Q437.9 406.7 437.4 409.9M442.4 405.7Q439.1 405.2 434 406.7M447.5 392.3Q446.3 397.5 447.4 402.6M453.2 396.8Q447.3 397.8 441.7 398.1M451.9 400.9Q447.3 396.7 443.1 394M436.5 409Q431.4 411 426.6 410.7M434 413.1Q432 410.6 429 406.6M430.4 414.7Q431.4 410.8 432.6 404.9" fill="none" stroke="#2a2300" stroke-width="0.9" clip-path="url(#c41)"/>
<polygon points="366.2,350.6 493.8,350.6 436.6,408.5 309,408.5" fill="none" stroke="#000" stroke-width="0.8"/>
<polyline points="309,408.5 436.6,408.5 493.8,350.6" fill="none" stroke="#000" stroke-width="1.6"/>
</g>
<g>
<polygon points="374.3,335.8 501.5,335.8 443.8,394.2 316.6,394.2" fill="url(#cg)" stroke="none"/>
<line x1="387" y1="335.8" x2="329.3" y2="394.2" stroke="#222" stroke-width="0.9"/>
<line x1="399.7" y1="335.8" x2="342" y2="394.2" stroke="#222" stroke-width="0.9"/>
<line x1="412.5" y1="335.8" x2="354.8" y2="394.2" stroke="#222" stroke-width="1.2"/>
<line x1="425.2" y1="335.8" x2="367.5" y2="394.2" stroke="#222" stroke-width="0.9"/>
<line x1="437.9" y1="335.8" x2="380.2" y2="394.2" stroke="#222" stroke-width="0.9"/>
<line x1="450.6" y1="335.8" x2="392.9" y2="394.2" stroke="#222" stroke-width="0.9"/>
<line x1="463.3" y1="335.8" x2="405.6" y2="394.2" stroke="#222" stroke-width="0.9"/>
<line x1="476.1" y1="335.8" x2="418.4" y2="394.2" stroke="#222" stroke-width="0.9"/>
<line x1="488.8" y1="335.8" x2="431.1" y2="394.2" stroke="#222" stroke-width="0.9"/>
<line x1="371.7" y1="345.5" x2="489.4" y2="345.5" stroke="#555" stroke-width="1.1"/>
<line x1="359.1" y1="355.3" x2="479.8" y2="355.3" stroke="#555" stroke-width="1.1"/>
<line x1="352.4" y1="365" x2="470.1" y2="365" stroke="#555" stroke-width="1.1"/>
<line x1="339.8" y1="374.7" x2="460.5" y2="374.7" stroke="#555" stroke-width="1.1"/>
<line x1="333.2" y1="384.5" x2="450.9" y2="384.5" stroke="#555" stroke-width="1.1"/>
<polygon points="374.3,335.8 501.5,335.8 443.8,394.2 316.6,394.2" fill="none" stroke="#000" stroke-width="1.6" stroke-linejoin="miter"/>
<polyline points="316.6,394.2 443.8,394.2 501.5,335.8" fill="none" stroke="#111" stroke-width="2.1"/>
<line x1="316" y1="394.9" x2="444.4" y2="394.9" stroke="#1c1c1c" stroke-width="3.0"/>
</g>
<text x="389.8" y="445.9" font-size="18.3" text-anchor="start" font-family='"Liberation Serif","Times New Roman",serif' fill="#000" textLength="35.2" lengthAdjust="spacingAndGlyphs" stroke="#000" stroke-width="0.28">CLC</text>
<g stroke-linejoin="miter">
<polygon points="434.4,541.3 444.1,547.6 448.1,543 452.1,538.4 456.1,533.8 460.1,529.2 464.1,524.6 468.1,520.1 472.1,515.5 476.1,510.9 480.1,506.3 484.1,501.7 488.1,497.1 488,499 488,488 484,488" fill="#fbe2d5" stroke="none"/>
<polygon points="434.4,541.3 444.1,547.6 434.9,555.3" fill="#dcb9ae" stroke="none"/>
<polygon points="434.4,541.3 439.7,545.7 444.1,547.6 438.5,536.9" fill="#dcb9ae" stroke="none"/>
<polygon points="438.5,536.9 443.8,541.1 448.1,543 442.7,532.4" fill="#dcb9ae" stroke="none"/>
<polygon points="442.7,532.4 447.9,536.6 452.1,538.4 446.8,528" fill="#dcb9ae" stroke="none"/>
<polygon points="446.8,528 451.9,532.1 456.1,533.8 450.9,523.5" fill="#dcb9ae" stroke="none"/>
<polygon points="450.9,523.5 456,527.6 460.1,529.2 455.1,519.1" fill="#dcb9ae" stroke="none"/>
<polygon points="455.1,519.1 460.1,523.1 464.1,524.6 459.2,514.6" fill="#dcb9ae" stroke="none"/>
<polygon points="459.2,514.6 464.1,518.6 468.1,520.1 463.3,510.2" fill="#dcb9ae" stroke="none"/>
<polygon points="463.3,510.2 468.2,514 472.1,515.5 467.5,505.8" fill="#dcb9ae" stroke="none"/>
<polygon points="467.5,505.8 472.3,509.5 476.1,510.9 471.6,501.3" fill="#dcb9ae" stroke="none"/>
<polygon points="471.6,501.3 476.3,505 480.1,506.3 475.7,496.9" fill="#dcb9ae" stroke="none"/>
<polygon points="475.7,496.9 480.4,500.5 484.1,501.7 479.9,492.4" fill="#dcb9ae" stroke="none"/>
<polygon points="479.9,492.4 484.5,496 488.1,497.1 484,488" fill="#dcb9ae" stroke="none"/>
<polyline points="434.4,541.3 444.1,547.6 438.5,536.9 448.1,543 442.7,532.4 452.1,538.4 446.8,528 456.1,533.8 450.9,523.5 460.1,529.2 455.1,519.1 464.1,524.6 459.2,514.6 468.1,520.1 463.3,510.2 472.1,515.5 467.5,505.8 476.1,510.9 471.6,501.3 480.1,506.3 475.7,496.9 484.1,501.7 479.9,492.4 488.1,497.1 484,488" fill="none" stroke="#000" stroke-width="1.5" stroke-linejoin="miter"/>
<line x1="488" y1="487" x2="488" y2="499" stroke="#000" stroke-width="2.2"/>
<line x1="488" y1="499" x2="490.5" y2="499.3" stroke="#000" stroke-width="0.9"/>
<line x1="434.4" y1="555.3" x2="437.4" y2="556.8" stroke="#000" stroke-width="1.2"/>
<polygon points="361,488 484,488 434.4,541.3 309,541.3" fill="#fbe2d5" stroke="none"/>
<clipPath id="s361_488"><polygon points="361,488 484,488 434.4,541.3 309,541.3" /></clipPath>
<g clip-path="url(#s361_488)">
<ellipse cx="368.8" cy="494.5" rx="11.1" ry="5.4" fill="#fbe2d5" stroke="#000" stroke-width="1.5"/>
<ellipse cx="392.8" cy="494.5" rx="11.1" ry="5.4" fill="#fbe2d5" stroke="#000" stroke-width="1.5"/>
<ellipse cx="416.7" cy="494.5" rx="11.1" ry="5.4" fill="#fbe2d5" stroke="#000" stroke-width="1.5"/>
<ellipse cx="440.7" cy="494.5" rx="11.1" ry="5.4" fill="#fbe2d5" stroke="#000" stroke-width="1.5"/>
<ellipse cx="464.7" cy="494.5" rx="11.1" ry="5.4" fill="#fbe2d5" stroke="#000" stroke-width="1.5"/>
<ellipse cx="361.6" cy="501.9" rx="11.1" ry="5.4" fill="#fbe2d5" stroke="#000" stroke-width="1.5"/>
<ellipse cx="385.6" cy="501.9" rx="11.1" ry="5.4" fill="#fbe2d5" stroke="#000" stroke-width="1.5"/>
<ellipse cx="409.5" cy="501.9" rx="11.1" ry="5.4" fill="#fbe2d5" stroke="#000" stroke-width="1.5"/>
<ellipse cx="433.5" cy="501.9" rx="11.1" ry="5.4" fill="#fbe2d5" stroke="#000" stroke-width="1.5"/>
<ellipse cx="457.5" cy="501.9" rx="11.1" ry="5.4" fill="#fbe2d5" stroke="#000" stroke-width="1.5"/>
<ellipse cx="354.4" cy="509.2" rx="11.1" ry="5.4" fill="#fbe2d5" stroke="#000" stroke-width="1.5"/>
<ellipse cx="378.4" cy="509.2" rx="11.1" ry="5.4" fill="#fbe2d5" stroke="#000" stroke-width="1.5"/>
<ellipse cx="402.3" cy="509.2" rx="11.1" ry="5.4" fill="#fbe2d5" stroke="#000" stroke-width="1.5"/>
<ellipse cx="426.3" cy="509.2" rx="11.1" ry="5.4" fill="#fbe2d5" stroke="#000" stroke-width="1.5"/>
<ellipse cx="450.3" cy="509.2" rx="11.1" ry="5.4" fill="#fbe2d5" stroke="#000" stroke-width="1.5"/>
<ellipse cx="347.2" cy="516.6" rx="11.1" ry="5.4" fill="#fbe2d5" stroke="#000" stroke-width="1.5"/>
<ellipse cx="371.2" cy="516.6" rx="11.1" ry="5.4" fill="#fbe2d5" stroke="#000" stroke-width="1.5"/>
<ellipse cx="395.2" cy="516.6" rx="11.1" ry="5.4" fill="#fbe2d5" stroke="#000" stroke-width="1.5"/>
<ellipse cx="419.1" cy="516.6" rx="11.1" ry="5.4" fill="#fbe2d5" stroke="#000" stroke-width="1.5"/>
<ellipse cx="443.1" cy="516.6" rx="11.1" ry="5.4" fill="#fbe2d5" stroke="#000" stroke-width="1.5"/>
<ellipse cx="340" cy="524" rx="11.1" ry="5.4" fill="#fbe2d5" stroke="#000" stroke-width="1.5"/>
<ellipse cx="364" cy="524" rx="11.1" ry="5.4" fill="#fbe2d5" stroke="#000" stroke-width="1.5"/>
<ellipse cx="388" cy="524" rx="11.1" ry="5.4" fill="#fbe2d5" stroke="#000" stroke-width="1.5"/>
<ellipse cx="411.9" cy="524" rx="11.1" ry="5.4" fill="#fbe2d5" stroke="#000" stroke-width="1.5"/>
<ellipse cx="435.9" cy="524" rx="11.1" ry="5.4" fill="#fbe2d5" stroke="#000" stroke-width="1.5"/>
<path d="M320.9 538.2H322Q328.9 538.2 328.9 536.4A11.1 5.4 0 1 1 336.8 536.4Q336.8 538.2 343.7 538.2H344.8" fill="#fbe2d5" stroke="#000" stroke-width="1.5"/>
<path d="M322 538.2Q328.9 538.2 328.9 537L329.1 538.2Z" fill="#000"/>
<path d="M343.7 538.2Q336.8 538.2 336.8 537L336.6 538.2Z" fill="#000"/>
<path d="M344.8 538.2H346Q352.8 538.2 352.8 536.4A11.1 5.4 0 1 1 360.8 536.4Q360.8 538.2 367.6 538.2H368.8" fill="#fbe2d5" stroke="#000" stroke-width="1.5"/>
<path d="M346 538.2Q352.8 538.2 352.8 537L353 538.2Z" fill="#000"/>
<path d="M367.6 538.2Q360.8 538.2 360.8 537L360.6 538.2Z" fill="#000"/>
<path d="M368.8 538.2H369.9Q376.8 538.2 376.8 536.4A11.1 5.4 0 1 1 384.7 536.4Q384.7 538.2 391.6 538.2H392.7" fill="#fbe2d5" stroke="#000" stroke-width="1.5"/>
<path d="M369.9 538.2Q376.8 538.2 376.8 537L377 538.2Z" fill="#000"/>
<path d="M391.6 538.2Q384.7 538.2 384.7 537L384.5 538.2Z" fill="#000"/>
<path d="M392.7 538.2H393.9Q400.7 538.2 400.7 536.4A11.1 5.4 0 1 1 408.7 536.4Q408.7 538.2 415.6 538.2H416.7" fill="#fbe2d5" stroke="#000" stroke-width="1.5"/>
<path d="M393.9 538.2Q400.7 538.2 400.7 537L400.9 538.2Z" fill="#000"/>
<path d="M415.6 538.2Q408.7 538.2 408.7 537L408.5 538.2Z" fill="#000"/>
<path d="M416.7 538.2H417.8Q424.7 538.2 424.7 536.4A11.1 5.4 0 1 1 432.7 536.4Q432.7 538.2 439.5 538.2H440.7" fill="#fbe2d5" stroke="#000" stroke-width="1.5"/>
<path d="M417.8 538.2Q424.7 538.2 424.7 537L424.9 538.2Z" fill="#000"/>
<path d="M439.5 538.2Q432.7 538.2 432.7 537L432.5 538.2Z" fill="#000"/>
<circle cx="331.4" cy="536.4" r="2.7" fill="#fbe2d5" stroke="#f4f4f4" stroke-width="1.3"/>
</g>
<line x1="434.4" y1="541.3" x2="484" y2="488" stroke="#000" stroke-width="1.3"/>
<polyline points="434.4,541.3 309,541.3 361,488 488.8,488" fill="none" stroke="#000" stroke-width="2.5" stroke-linejoin="bevel"/>
<polygon points="309,541.3 434.4,541.3 434.4,555.3 309,555.3" fill="#fbe2d5" stroke="none"/>
<polyline points="310.5,542.3 316.6,554.3 322.7,542.3 328.9,554.3 335,542.3 341.1,554.3 347.2,542.3 353.3,554.3 359.5,542.3 365.6,554.3 371.7,542.3 377.8,554.3 383.9,542.3 390.1,554.3 396.2,542.3 402.3,554.3 408.4,542.3 414.5,554.3 420.7,542.3 426.8,554.3 432.9,542.3" fill="none" stroke="#000" stroke-width="1.45" stroke-linejoin="miter"/>
<polygon points="309,541.3 434.4,541.3 434.4,555.3 309,555.3" fill="none" stroke="#000" stroke-width="2.5"/>
</g>
<g>
<polygon points="363.6,474.4 491.6,474.4 434.6,532.8 306.6,532.8" fill="#f6f02c" stroke="none"/>
<clipPath id="c51"><polygon points="363.6,474.4 491.6,474.4 434.6,532.8 306.6,532.8" /></clipPath>
<path d="M359.6 497Q369.8 502.5 376.7 510.4M446.5 501Q441.4 506.6 435 511.3M435.7 497.5Q440.3 508.6 445.8 514.9M456.7 477.5Q468.5 477.5 475.8 479M381.2 498.3Q380 499.2 374.2 503.4M372.6 475.5Q365.1 480.5 354.4 484.5M343.9 528.1Q336.6 531.8 325.1 531.4M341.7 529.3Q334.4 532.1 327.2 530.1M427.7 501.7Q427.5 506 428 515.1M426.1 501.7Q425.5 508.3 429.6 515.1M383.1 513.9Q384.5 524 381.5 530.8M465.7 469.4Q466.5 477.8 463.7 487M470.9 476.5Q466.7 478.1 458.5 479.9M377.3 515.7Q381.7 520 384.5 524.9M363.8 489.8Q371.3 497.6 378.3 501.6M461 477Q459.8 487.1 463.6 495.6M410.8 508.8Q408.3 515.5 406.4 522.7M368.8 507.8Q379.9 510.6 386.2 514.4M435.7 505.2Q441.2 512 445.1 517M409.8 494.4Q412.4 498.2 410.6 503M426.7 518.8Q435.9 517.9 446.9 521.5M344.5 521.8Q349.8 527.9 354.2 531.7M447.6 503.7Q443.2 508.5 436.4 509.2M427.3 472.2Q438.1 478.7 444.9 481.5M445.8 475.3Q433.6 477 426.3 478.4M321.9 529.8Q315.4 530.1 310.7 528.9M319.1 532.9Q316.3 528.3 313.5 525.8M313.8 533Q316.4 528.3 318.8 525.7M318.9 520.6Q323.6 521.2 326.6 523.2M323.9 517.8Q322.1 522.6 321.5 525.9M327.4 520.9Q323.1 521.8 318.1 522.8M325.5 519.7Q327.9 522.9 328.4 525.9M331.9 519.6Q326.9 521.6 322 526M332.1 522.8Q328 522.3 321.8 522.8M474.3 480.4Q471.2 483.5 470.3 485.6M476.6 483.3Q473.1 483.7 468 482.6M473.3 486.7Q472.6 483.8 471.2 479.3M324.8 523.5Q326.4 527.5 328.8 530.5M330.5 523.2Q327.7 527.3 323.1 530.7M333.2 528.2Q327.9 528 320.4 525.7M332.1 519.3Q335.6 521.9 339.4 523.8M338.4 518.7Q335.7 522.3 333.1 524.4M341.6 520Q335.6 522.3 329.9 523.1M339.7 528.7Q334.1 529.9 329.4 531.3M337.8 532.9Q334.9 530.2 331.3 527.1M332.5 532.7Q333.6 531.1 336.6 527.3M476.4 486.4Q469.5 488.6 464.1 489.9M475.1 489.6Q471 489.4 465.4 486.8M471.1 491.4Q470.6 488.8 469.4 485M339.9 521.9Q343.3 523.2 347.6 526.5M346 519.9Q343.2 524.1 341.4 528.5M351.1 523.6Q342.8 523.6 336.4 524.8M352.3 523.9Q346.3 525.8 342.7 526.6M352.1 529.1Q346.4 524.2 342.9 521.4M347.8 529.9Q347 525.4 347.2 520.6M349.4 520.9Q352.9 524.3 354.7 527M353.8 520.3Q352 524.7 350.3 527.6M356.4 523.3Q351.8 524.6 347.7 524.7M465.1 491.8Q461.7 494.7 456.5 496.7M464.2 495.8Q461.7 494.5 457.4 492.6M459.6 498.9Q460.5 493.7 462 489.5M350.6 521.3Q358.5 523.2 365.1 523.6M355.3 517.6Q357.5 523 360.4 527.3M361.5 518.7Q356.9 521.8 354.2 526.2M360.6 528.3Q354.7 530.2 349.7 532.5M359 532.3Q354.5 530.1 351.3 528.5M353.2 535.1Q355.3 531.1 357.1 525.7M364.4 525Q358.4 525 352.8 526M362.6 529.7Q358.5 524.9 354.6 521.3M356.6 530.1Q357.6 525.1 360.6 520.9M468.1 498.4Q461.7 500.4 453.8 500.4M464.2 503.9Q461 499.6 457.6 495M459.7 503.3Q460.2 498.5 462.2 495.5M367.8 517.4Q369.4 520.8 370.3 525M372 519.1Q369.1 520.5 366.1 523.3M374 522.6Q369.7 520.1 364.1 519.7M373.3 517.9Q370.3 520.3 368.5 524.9M376.1 520.8Q372 521.9 365.7 522.1M373.9 524.2Q371.1 520.7 368 518.6M364.5 524Q371.2 525.3 376.8 527.9M370.9 522.3Q370.3 526.7 370.4 529.6M375.6 523.5Q370.3 526.3 365.6 528.4M458 497.3Q458.2 499.4 456.2 503.2M463.3 497.4Q456.9 499.7 450.9 503.2M461 503.8Q457.3 500.6 453.1 496.7M390.3 519.1Q384.8 521.5 378.3 524.4M389.6 523.3Q383.9 522.5 379 520.2M384.5 525.7Q385.5 522.6 384 517.8M376.9 525.2Q380.1 526.8 385.3 528.5M382.6 523.1Q381.9 526.6 379.6 530.6M387.5 524.1Q381.5 527.2 374.6 529.6M374.6 527Q376.1 529.7 378.3 532.5M378.7 526.3Q377.6 528.7 374.2 533.1M380.7 529.8Q375.7 530.7 372.2 529.7M452.4 503.6Q455.8 507.8 458.2 513M460.6 504.7Q454.6 509 449.9 511.9M460.4 508.6Q455.6 508.1 450.2 508M386.2 520.1Q386 523.3 386 527.3M391.2 520.5Q386.4 524 381.1 526.8M391.3 524.1Q386.8 524.7 380.9 523.3M383.8 525.8Q390.3 529.9 395.5 531.9M390.1 525.4Q390.5 528.3 389.1 532.3M396.1 528.3Q389.5 528.2 383.2 529.3M389.7 523.5Q394.4 527.4 397.1 530.4M397.4 522.4Q393.5 527.6 389.4 531.5M397.4 526.4Q393.7 527.4 389.5 527.5M445.2 511Q450.9 511.8 456.2 514.7M452.6 509.2Q450.1 513.8 448.8 516.5M456.7 510.2Q451.7 512.6 444.7 515.6M395.1 520.7Q398.9 521.2 402.5 523.9M398.8 518.7Q398.9 522.2 398.8 525.9M404.3 518.7Q397.8 522.4 393.3 525.9M406.4 529.7Q398.7 531.8 392 531.8M405 533.2Q398.6 530.8 393.4 528.3M398.5 535.6Q400 531.2 399.9 525.9M403.2 523.4Q399.1 528.2 395.5 531.2M404.5 527.6Q400.1 527.6 394.2 527M401.2 532.4Q398.6 527.3 397.5 522.2M444.8 512.7Q444.1 516.9 445.2 520.9M450.2 514.2Q445.7 515.8 439.8 519.4M449.8 516.9Q444.9 515.7 440.2 516.7M408.6 524.3Q413.8 527.8 420 529M415.1 522.8Q413.5 527.1 413.5 530.5M419.8 525.9Q415.1 525.5 408.8 527.4M410.3 523.8Q416.5 528 420.6 531.1M415 522.1Q414.5 528.2 415.8 532.9M421.5 524.9Q414.9 526.8 409.3 530.1M412.5 524.4Q411.5 529 409.7 531.8M417.5 527Q411.5 528.8 404.7 529.2M414.7 531.7Q412.3 528.5 407.5 524.5M444.9 520.8Q440.4 521.3 434.6 522.5M441.4 524.9Q439.4 520.8 438.1 518.4M436.9 524.8Q440.6 521.6 442.6 518.5M414.1 523.9Q421 525.7 428.1 527M418.9 522.7Q421.6 526 423.2 528.2M424.1 522.1Q421.5 525.1 418.1 528.8M419.7 527Q420.8 531 419.6 534.6M422.6 528.5Q420.1 530.7 416.7 533.2M424.5 532.7Q420.8 529.6 414.8 529M427.4 519.6Q426.7 524.1 426.1 529.6M431.9 521.7Q425.6 524.4 421.6 527.6M431.2 526.4Q427.4 524.1 422.3 522.8M417.6 528.3Q423.6 530.8 429.1 534.3M425.5 528.5Q422.2 530.8 421.2 534.1M428.9 530.5Q423.2 531.9 417.8 532.1M433.4 521Q439.1 522.1 443 522.8M435 517.7Q437.5 522.1 441.5 526.1M441.9 519.2Q439.2 521.5 434.5 524.6M431.1 521.9Q439.1 524.1 444.6 524.9M435.5 519.8Q438 523.8 440.3 526.9M442 519.5Q437.8 523.6 433.8 527.2M441.8 526.1Q439.8 528.4 436.1 531.4M443.9 530.7Q437.9 527.9 434 526.9M439.6 531.8Q438.8 529 438.3 525.7M423.1 532.6Q425.5 537 426.3 539M428.8 532.5Q424.2 536.9 420.6 539.1M431.3 537.3Q424.4 535.9 418.1 534.3" fill="none" stroke="#2a2300" stroke-width="0.9" clip-path="url(#c51)"/>
<polygon points="363.6,474.4 491.6,474.4 434.6,532.8 306.6,532.8" fill="none" stroke="#000" stroke-width="0.8"/>
<polyline points="306.6,532.8 434.6,532.8 491.6,474.4" fill="none" stroke="#000" stroke-width="1.6"/>
</g>
<g>
<polygon points="370.9,459.2 498.1,459.2 439.8,517 312.6,517" fill="url(#cg)" stroke="none"/>
<line x1="383.6" y1="459.2" x2="325.3" y2="517" stroke="#222" stroke-width="0.9"/>
<line x1="396.3" y1="459.2" x2="338" y2="517" stroke="#222" stroke-width="0.9"/>
<line x1="409.1" y1="459.2" x2="350.8" y2="517" stroke="#222" stroke-width="1.2"/>
<line x1="421.8" y1="459.2" x2="363.5" y2="517" stroke="#222" stroke-width="0.9"/>
<line x1="434.5" y1="459.2" x2="376.2" y2="517" stroke="#222" stroke-width="0.9"/>
<line x1="447.2" y1="459.2" x2="388.9" y2="517" stroke="#222" stroke-width="0.9"/>
<line x1="459.9" y1="459.2" x2="401.6" y2="517" stroke="#222" stroke-width="0.9"/>
<line x1="472.7" y1="459.2" x2="414.4" y2="517" stroke="#222" stroke-width="0.9"/>
<line x1="485.4" y1="459.2" x2="427.1" y2="517" stroke="#222" stroke-width="0.9"/>
<line x1="368.2" y1="468.8" x2="485.9" y2="468.8" stroke="#555" stroke-width="1.1"/>
<line x1="355.5" y1="478.5" x2="476.2" y2="478.5" stroke="#555" stroke-width="1.1"/>
<line x1="348.8" y1="488.1" x2="466.4" y2="488.1" stroke="#555" stroke-width="1.1"/>
<line x1="336" y1="497.7" x2="456.7" y2="497.7" stroke="#555" stroke-width="1.1"/>
<line x1="329.3" y1="507.4" x2="447" y2="507.4" stroke="#555" stroke-width="1.1"/>
<polygon points="370.9,459.2 498.1,459.2 439.8,517 312.6,517" fill="none" stroke="#000" stroke-width="1.6" stroke-linejoin="miter"/>
<polyline points="312.6,517 439.8,517 498.1,459.2" fill="none" stroke="#111" stroke-width="2.1"/>
<line x1="312" y1="517.7" x2="440.4" y2="517.7" stroke="#1c1c1c" stroke-width="3.0"/>
</g>
<text x="383.7" y="595" font-size="18.3" text-anchor="start" font-family='"Liberation Serif","Times New Roman",serif' fill="#000" textLength="35.5" lengthAdjust="spacingAndGlyphs" stroke="#000" stroke-width="0.28">CLN</text>
<line x1="674.7" y1="39.2" x2="674.7" y2="281" stroke="#1a1a1a" stroke-width="1.2"/>
<line x1="674.1" y1="280.4" x2="1000.8" y2="280.4" stroke="#1a1a1a" stroke-width="1.2"/>
<line x1="669.3" y1="280.4" x2="674.7" y2="280.4" stroke="#1a1a1a" stroke-width="1.2"/>
<text x="666.3" y="285.1" font-size="13.5" text-anchor="end" font-family='"Liberation Sans",Arial,sans-serif' fill="#000" stroke="#000" stroke-width="0.1">0</text>
<line x1="671.9" y1="260.7" x2="674.7" y2="260.7" stroke="#1a1a1a" stroke-width="1.2"/>
<line x1="669.3" y1="240.9" x2="674.7" y2="240.9" stroke="#1a1a1a" stroke-width="1.2"/>
<text x="666.3" y="245.6" font-size="13.5" text-anchor="end" font-family='"Liberation Sans",Arial,sans-serif' fill="#000" stroke="#000" stroke-width="0.1">100</text>
<line x1="671.9" y1="221.2" x2="674.7" y2="221.2" stroke="#1a1a1a" stroke-width="1.2"/>
<line x1="669.3" y1="201.5" x2="674.7" y2="201.5" stroke="#1a1a1a" stroke-width="1.2"/>
<text x="666.3" y="206.2" font-size="13.5" text-anchor="end" font-family='"Liberation Sans",Arial,sans-serif' fill="#000" stroke="#000" stroke-width="0.1">200</text>
<line x1="671.9" y1="181.7" x2="674.7" y2="181.7" stroke="#1a1a1a" stroke-width="1.2"/>
<line x1="669.3" y1="162" x2="674.7" y2="162" stroke="#1a1a1a" stroke-width="1.2"/>
<text x="666.3" y="166.7" font-size="13.5" text-anchor="end" font-family='"Liberation Sans",Arial,sans-serif' fill="#000" stroke="#000" stroke-width="0.1">300</text>
<line x1="671.9" y1="142.3" x2="674.7" y2="142.3" stroke="#1a1a1a" stroke-width="1.2"/>
<line x1="669.3" y1="122.6" x2="674.7" y2="122.6" stroke="#1a1a1a" stroke-width="1.2"/>
<text x="666.3" y="127.3" font-size="13.5" text-anchor="end" font-family='"Liberation Sans",Arial,sans-serif' fill="#000" stroke="#000" stroke-width="0.1">400</text>
<line x1="671.9" y1="102.8" x2="674.7" y2="102.8" stroke="#1a1a1a" stroke-width="1.2"/>
<line x1="669.3" y1="83.1" x2="674.7" y2="83.1" stroke="#1a1a1a" stroke-width="1.2"/>
<text x="666.3" y="87.8" font-size="13.5" text-anchor="end" font-family='"Liberation Sans",Arial,sans-serif' fill="#000" stroke="#000" stroke-width="0.1">500</text>
<line x1="671.9" y1="63.4" x2="674.7" y2="63.4" stroke="#1a1a1a" stroke-width="1.2"/>
<line x1="669.3" y1="43.6" x2="674.7" y2="43.6" stroke="#1a1a1a" stroke-width="1.2"/>
<text x="666.3" y="48.3" font-size="13.5" text-anchor="end" font-family='"Liberation Sans",Arial,sans-serif' fill="#000" stroke="#000" stroke-width="0.1">600</text>
<rect x="686.7" y="190.2" width="28.8" height="90.2" fill="#ffff80" stroke="#444" stroke-width="0.9"/>
<rect x="715.5" y="125.3" width="28.8" height="155.1" fill="#ff8000" stroke="#444" stroke-width="0.9"/>
<path d="M701.1 189.6V190.8M696.7 189.6H705.5M696.7 190.8H705.5" stroke="#000" stroke-width="1.1" fill="none"/>
<path d="M729.9 124.5V126.1M725.5 124.5H734.3M725.5 126.1H734.3" stroke="#000" stroke-width="1.1" fill="none"/>
<line x1="715.5" y1="280.4" x2="715.5" y2="285.8" stroke="#1a1a1a" stroke-width="1.2"/>
<line x1="756.1" y1="280.4" x2="756.1" y2="283.2" stroke="#1a1a1a" stroke-width="1.2"/>
<text x="715.8" y="300.2" font-size="13.7" text-anchor="middle" font-family='"Liberation Serif","Times New Roman",serif' fill="#000" textLength="27.2" lengthAdjust="spacingAndGlyphs" stroke="#000" stroke-width="0.1">NLC</text>
<rect x="768" y="164.2" width="28.8" height="116.2" fill="#ffff80" stroke="#444" stroke-width="0.9"/>
<rect x="796.8" y="56.9" width="28.8" height="223.5" fill="#ff8000" stroke="#444" stroke-width="0.9"/>
<path d="M782.4 162.2V166.2M778 162.2H786.8M778 166.2H786.8" stroke="#000" stroke-width="1.1" fill="none"/>
<path d="M811.2 55.5V58.2M806.8 55.5H815.6M806.8 58.2H815.6" stroke="#000" stroke-width="1.1" fill="none"/>
<line x1="796.8" y1="280.4" x2="796.8" y2="285.8" stroke="#1a1a1a" stroke-width="1.2"/>
<line x1="837.4" y1="280.4" x2="837.4" y2="283.2" stroke="#1a1a1a" stroke-width="1.2"/>
<text x="797.1" y="300.2" font-size="13.7" text-anchor="middle" font-family='"Liberation Serif","Times New Roman",serif' fill="#000" textLength="27.2" lengthAdjust="spacingAndGlyphs" stroke="#000" stroke-width="0.1">NLN</text>
<rect x="849.3" y="185.5" width="28.8" height="94.9" fill="#ffff80" stroke="#444" stroke-width="0.9"/>
<rect x="878.1" y="73.2" width="28.8" height="207.2" fill="#ff8000" stroke="#444" stroke-width="0.9"/>
<path d="M863.7 183.1V187.9M859.3 183.1H868.1M859.3 187.9H868.1" stroke="#000" stroke-width="1.1" fill="none"/>
<path d="M892.5 71.9V74.6M888.1 71.9H896.9M888.1 74.6H896.9" stroke="#000" stroke-width="1.1" fill="none"/>
<line x1="878.1" y1="280.4" x2="878.1" y2="285.8" stroke="#1a1a1a" stroke-width="1.2"/>
<line x1="918.8" y1="280.4" x2="918.8" y2="283.2" stroke="#1a1a1a" stroke-width="1.2"/>
<text x="878.4" y="300.2" font-size="13.7" text-anchor="middle" font-family='"Liberation Serif","Times New Roman",serif' fill="#000" textLength="27.2" lengthAdjust="spacingAndGlyphs" stroke="#000" stroke-width="0.1">CLC</text>
<rect x="930.6" y="202.3" width="28.8" height="78.1" fill="#ffff80" stroke="#444" stroke-width="0.9"/>
<rect x="959.4" y="120.4" width="28.8" height="160" fill="#ff8000" stroke="#444" stroke-width="0.9"/>
<path d="M945 200.3V204.2M940.6 200.3H949.4M940.6 204.2H949.4" stroke="#000" stroke-width="1.1" fill="none"/>
<path d="M973.8 117.8V123M969.4 117.8H978.2M969.4 123H978.2" stroke="#000" stroke-width="1.1" fill="none"/>
<line x1="959.4" y1="280.4" x2="959.4" y2="285.8" stroke="#1a1a1a" stroke-width="1.2"/>
<line x1="1000" y1="280.4" x2="1000" y2="283.2" stroke="#1a1a1a" stroke-width="1.2"/>
<text x="959.7" y="300.2" font-size="13.7" text-anchor="middle" font-family='"Liberation Serif","Times New Roman",serif' fill="#000" textLength="27.2" lengthAdjust="spacingAndGlyphs" stroke="#000" stroke-width="0.1">CLN</text>
<line x1="674.7" y1="281" x2="1000.8" y2="281" stroke="#1a1a1a" stroke-width="0"/>
<text x="791.8" y="323.2" font-size="14" text-anchor="start" font-family='"Liberation Serif","Times New Roman",serif' fill="#000" textLength="92.2" lengthAdjust="spacingAndGlyphs" stroke="#000" stroke-width="0.1">Fabric Laminate</text>
<text x="634.2" y="215.2" font-size="14" text-anchor="start" font-family='"Liberation Serif","Times New Roman",serif' fill="#000" textLength="92" lengthAdjust="spacingAndGlyphs" transform="rotate(-90 634.2 215.2)" stroke="#000" stroke-width="0.1">Tensile Strength</text>
<rect x="942.8" y="14.5" width="28.6" height="13.0" fill="#ffff80" stroke="#5a5a2a" stroke-width="1"/>
<rect x="942.8" y="30.5" width="28.6" height="13.0" fill="#ff8000" stroke="#6a3a10" stroke-width="1"/>
<text x="974.6" y="25.3" font-size="13.1" text-anchor="start" font-family='"Liberation Sans",Arial,sans-serif' fill="#000" stroke="#000" stroke-width="0.1">CD</text>
<text x="974.8" y="41.1" font-size="13.1" text-anchor="start" font-family='"Liberation Sans",Arial,sans-serif' fill="#000" stroke="#000" stroke-width="0.1">MD</text>
<line x1="680.2" y1="361.7" x2="680.2" y2="631.4" stroke="#1a1a1a" stroke-width="1.2"/>
<line x1="679.6" y1="630.8" x2="1043.4" y2="630.8" stroke="#1a1a1a" stroke-width="1.2"/>
<line x1="674.6" y1="362.3" x2="680" y2="362.3" stroke="#1a1a1a" stroke-width="1.2"/>
<text x="671.2" y="366.6" font-size="15.7" text-anchor="end" font-family='"Liberation Serif","Times New Roman",serif' fill="#000" stroke="#000" stroke-width="0.1">20</text>
<line x1="677.2" y1="384.7" x2="680" y2="384.7" stroke="#1a1a1a" stroke-width="1.2"/>
<line x1="674.6" y1="407" x2="680" y2="407" stroke="#1a1a1a" stroke-width="1.2"/>
<text x="671.2" y="411.3" font-size="15.7" text-anchor="end" font-family='"Liberation Serif","Times New Roman",serif' fill="#000" stroke="#000" stroke-width="0.1">0</text>
<line x1="677.2" y1="429.4" x2="680" y2="429.4" stroke="#1a1a1a" stroke-width="1.2"/>
<line x1="674.6" y1="451.8" x2="680" y2="451.8" stroke="#1a1a1a" stroke-width="1.2"/>
<text x="671.2" y="456.1" font-size="15.7" text-anchor="end" font-family='"Liberation Serif","Times New Roman",serif' fill="#000" stroke="#000" stroke-width="0.1">-20</text>
<line x1="677.2" y1="474.2" x2="680" y2="474.2" stroke="#1a1a1a" stroke-width="1.2"/>
<line x1="674.6" y1="496.5" x2="680" y2="496.5" stroke="#1a1a1a" stroke-width="1.2"/>
<text x="671.2" y="500.8" font-size="15.7" text-anchor="end" font-family='"Liberation Serif","Times New Roman",serif' fill="#000" stroke="#000" stroke-width="0.1">-40</text>
<line x1="677.2" y1="518.9" x2="680" y2="518.9" stroke="#1a1a1a" stroke-width="1.2"/>
<line x1="674.6" y1="541.3" x2="680" y2="541.3" stroke="#1a1a1a" stroke-width="1.2"/>
<text x="671.2" y="545.6" font-size="15.7" text-anchor="end" font-family='"Liberation Serif","Times New Roman",serif' fill="#000" stroke="#000" stroke-width="0.1">-60</text>
<line x1="677.2" y1="563.6" x2="680" y2="563.6" stroke="#1a1a1a" stroke-width="1.2"/>
<line x1="674.6" y1="586" x2="680" y2="586" stroke="#1a1a1a" stroke-width="1.2"/>
<text x="671.2" y="590.3" font-size="15.7" text-anchor="end" font-family='"Liberation Serif","Times New Roman",serif' fill="#000" stroke="#000" stroke-width="0.1">-80</text>
<line x1="677.2" y1="608.4" x2="680" y2="608.4" stroke="#1a1a1a" stroke-width="1.2"/>
<line x1="674.6" y1="630.7" x2="680" y2="630.7" stroke="#1a1a1a" stroke-width="1.2"/>
<text x="671.2" y="635" font-size="15.7" text-anchor="end" font-family='"Liberation Serif","Times New Roman",serif' fill="#000" stroke="#000" stroke-width="0.1">-100</text>
<line x1="680" y1="630.8" x2="680" y2="636.2" stroke="#1a1a1a" stroke-width="1.2"/>
<line x1="731.9" y1="630.8" x2="731.9" y2="633.6" stroke="#1a1a1a" stroke-width="1.2"/>
<text x="680.1" y="651.8" font-size="15.6" text-anchor="middle" font-family='"Liberation Serif","Times New Roman",serif' fill="#000" textLength="69.2" lengthAdjust="spacingAndGlyphs" stroke="#000" stroke-width="0.1">0.00E+000</text>
<line x1="783.7" y1="630.8" x2="783.7" y2="636.2" stroke="#1a1a1a" stroke-width="1.2"/>
<line x1="835.6" y1="630.8" x2="835.6" y2="633.6" stroke="#1a1a1a" stroke-width="1.2"/>
<text x="783.8" y="651.8" font-size="15.6" text-anchor="middle" font-family='"Liberation Serif","Times New Roman",serif' fill="#000" textLength="69.2" lengthAdjust="spacingAndGlyphs" stroke="#000" stroke-width="0.1">1.00E+009</text>
<line x1="887.4" y1="630.8" x2="887.4" y2="636.2" stroke="#1a1a1a" stroke-width="1.2"/>
<line x1="939.2" y1="630.8" x2="939.2" y2="633.6" stroke="#1a1a1a" stroke-width="1.2"/>
<text x="887.5" y="651.8" font-size="15.6" text-anchor="middle" font-family='"Liberation Serif","Times New Roman",serif' fill="#000" textLength="69.2" lengthAdjust="spacingAndGlyphs" stroke="#000" stroke-width="0.1">2.00E+009</text>
<line x1="991.1" y1="630.8" x2="991.1" y2="636.2" stroke="#1a1a1a" stroke-width="1.2"/>
<line x1="1043" y1="630.8" x2="1043" y2="633.6" stroke="#1a1a1a" stroke-width="1.2"/>
<text x="991.2" y="651.8" font-size="15.6" text-anchor="middle" font-family='"Liberation Serif","Times New Roman",serif' fill="#000" textLength="69.2" lengthAdjust="spacingAndGlyphs" stroke="#000" stroke-width="0.1">3.00E+009</text>
<path d="M680.1 497.7C680.4 500 680.9 504.9 681.5 509.3C682.1 513.7 682.4 519.2 683.1 519.7C683.7 520.1 684 512.1 684.7 511.6C685.4 511.1 685.9 518.1 686.5 517.4C687.2 516.7 687.5 508.4 688.2 508.1C688.9 507.9 689.3 516.4 690 516.2C690.7 516 690.9 507.2 691.6 507C692.3 506.7 692.7 514.6 693.5 515.1C694.2 515.5 694.6 510.2 695.3 509.3C696 508.4 696.2 511.1 696.9 510.4C697.6 509.7 698.1 506.1 698.8 505.8C699.5 505.6 699.6 509.1 700.4 509.3C701.2 509.5 701.6 507 702.7 507C703.9 507 705 509.7 706.2 509.3C707.3 508.8 707.6 507.8 708.5 504.7C709.4 501.5 709.9 495.4 710.8 493.6C711.7 491.7 712.2 495.2 713.1 495.4C714 495.7 714.5 494.7 715.4 495C716.3 495.2 716.9 491.3 717.7 496.6C718.6 501.8 718.7 522 719.6 521.3C720.4 520.6 720.9 495.5 721.9 493.1C722.9 490.7 723.6 501.4 724.7 509.3C725.7 517.1 726 523.1 727 532.4C727.9 541.6 728.3 546.2 729.3 555.5C730.2 564.7 730.8 579.5 731.8 578.6C732.8 577.6 733.3 559.2 734.4 550.9C735.4 542.5 735.8 541.2 736.9 537C738 532.8 738.6 532.6 739.7 530.1C740.7 527.5 741.1 525.7 742 524.3C742.9 522.9 743.3 523.8 744.3 523.1C745.3 522.4 746 522.4 747.1 520.8C748.1 519.2 748.3 516.4 749.4 515.1C750.4 513.7 751.3 514.8 752.4 513.9C753.4 513 753.5 510.9 754.7 510.4C755.8 510 756.8 511.8 758.1 511.6C759.5 511.4 760.2 509.3 761.6 509.3C763 509.3 763.7 511.6 765.1 511.6C766.5 511.6 767.1 508.9 768.5 509.3C769.9 509.7 770.6 512.7 772 513.4C773.4 514.1 774.1 512.2 775.5 512.7C776.8 513.3 777.5 515.8 778.9 516.2C780.3 516.7 781.1 514.4 782.4 515.1C783.7 515.8 784.2 519.4 785.4 519.7C786.5 519.9 787 515.8 788.2 516.2C789.3 516.7 789.9 521.8 791.2 522C792.4 522.2 793.2 517 794.4 517.4C795.6 517.7 796.2 523.4 797.4 523.6C798.6 523.8 799.2 518.2 800.4 518.5C801.6 518.9 802 524 803.2 525.5C804.3 526.9 805 527.3 806.2 525.9C807.3 524.5 807.8 518.8 808.9 518.5C810.1 518.2 810.6 524.5 811.7 524.3C812.9 524.1 813.5 517.5 814.7 517.4C815.9 517.2 816.5 524.1 817.7 523.6C819 523.1 819.7 515.5 821 515.1C822.2 514.6 822.7 521.8 824 521.3C825.3 520.8 826.2 513.1 827.4 512.7C828.7 512.4 828.9 520.4 830.2 519.7C831.5 519 832.3 512.3 833.9 509.3C835.5 506.2 836.8 503.1 838.3 504.5C839.8 505.8 840.3 516.4 841.6 516.1C843 515.8 843.6 502.8 844.9 503.1C846.3 503.3 846.9 517.6 848.3 517.4C849.6 517.1 850.3 501.6 851.6 501.8C852.9 501.9 853.6 518.1 854.9 518C856.3 517.9 856.9 501.4 858.2 501.4C859.6 501.5 860.2 518.2 861.6 518.2C862.9 518.1 863.6 501.1 864.9 501.1C866.2 501.1 866.9 518.4 868.2 518.3C869.6 518.3 870.2 501.9 871.5 500.8C872.9 499.7 873.5 514.2 874.9 512.7C876.2 511.1 876.9 493.1 878.2 493C879.5 492.9 880.2 509.4 881.5 512.2C882.8 514.9 883.7 503.9 884.8 506.6C886 509.3 886.5 515.9 887.3 525.7C888.1 535.5 888.3 555.1 888.9 555.6C889.5 556.1 889.9 536.7 890.5 528.3C891 519.9 890.6 512.4 891.5 513.6C892.4 514.8 893.5 533 894.8 534.3C896.1 535.6 896.8 518.9 898.1 520C899.5 521.1 900.1 539.3 901.5 539.6C902.8 540 903.5 523 904.8 521.6C906.1 520.3 906.8 533.2 908.1 533C909.4 532.8 910.1 521.7 911.4 520.5C912.8 519.2 913.4 528 914.8 526.9C916.1 525.9 916.8 516.3 918.1 515.1C919.4 514 920.1 522.3 921.4 521.2C922.7 520.2 923.4 511 924.7 509.8C926.1 508.7 926.7 516.5 928.1 515.5C929.4 514.5 930.1 505.8 931.4 504.7C932.7 503.7 933.4 511.3 934.7 510.3C936 509.4 936.7 501.1 938 500.1C939.4 499.1 940 506.2 941.4 505.2C942.7 504.3 943.4 496.4 944.7 495.5C946 494.6 946.7 501.3 948 500.6C949.3 500 950 492.8 951.3 492C952.7 491.2 953.3 496.5 954.7 496.5C956 496.5 956.7 491.5 958 492C959.3 492.5 960 498.1 961.3 498.9C962.6 499.7 963.3 495.2 964.6 496C966 496.8 966.6 501.5 968 502.7C969.3 504 970 501.2 971.3 502.4C972.6 503.6 973.3 507.6 974.6 508.8C975.9 510 976.6 507.1 977.9 508.4C979.3 509.7 979.9 514.1 981.3 515.3C982.6 516.5 983.3 513.7 984.6 514.5C985.9 515.4 986.6 519.2 987.9 519.5C989.2 519.9 990.6 516.8 991.2 516.1" fill="none" stroke="#ff0000" stroke-width="2.0" stroke-linejoin="round" stroke-linecap="round"/>
<path d="M680.4 411.6C680.8 412.3 681.3 414.9 682.1 415.3C682.8 415.7 683.4 413.6 684.4 413.4C685.3 413.3 685.6 414.4 686.7 414.4C687.7 414.4 688.5 414.1 689.7 413.4C690.9 412.8 691.8 412 692.7 411.1C693.6 410.3 693.5 409.1 694.1 409.3C694.6 409.5 694.5 411.5 695.5 412.1C696.4 412.6 697.5 412.2 698.9 412.1C700.3 411.9 700.3 411.5 702.4 411.1C704.5 410.8 706.8 410.8 709.3 410.4C711.8 410.1 713.6 410.8 715.1 409.3C716.6 407.8 716.1 402.8 716.7 402.8C717.3 402.8 717.5 408 718.1 409.3C718.6 410.6 718.9 410.4 719.5 409.3C720 408.1 720.3 402.8 720.9 403.5C721.5 404.2 721.5 411.1 722.5 413C723.4 414.8 723.9 413.1 725.5 412.7C727 412.4 728.2 411.4 730.1 411.1C731.9 410.9 732.9 411.5 734.7 411.4C736.6 411.2 737.5 410.6 739.3 410.4C741.2 410.3 742.1 410.8 743.9 410.7C745.8 410.6 746.5 410.1 748.6 410C750.6 409.8 752 410.2 754.3 410C756.7 409.8 757.8 409.3 760.1 409.1C762.4 408.8 763.6 408.9 765.9 408.6C768.2 408.3 769.6 407.9 771.7 407.7C773.7 407.4 774.7 407.6 776.3 407.4C777.9 407.3 778.6 406.6 779.7 406.7C780.9 406.9 780.9 408.3 782.1 408.4C783.2 408.5 783.9 407.3 785.5 407.2C787.1 407.2 788.3 408 790.1 408.1C792 408.2 792.7 407.6 794.8 407.7C796.8 407.7 798.2 408.3 800.5 408.4C802.8 408.5 804 408.1 806.3 408.1C808.6 408.2 809.8 408.5 812.1 408.6C814.4 408.6 815.5 408.3 817.9 408.4C820.2 408.4 821.3 408.8 823.6 408.8C825.9 408.8 827.1 408.4 829.4 408.4C831.7 408.4 833 408.7 835.2 408.8C837.3 408.9 837.8 408.9 840 408.8C842.2 408.8 843.6 408.4 846.2 408.5C848.8 408.6 850.3 409.2 853.1 409.2C855.9 409.2 857.3 408.5 860 408.5C862.8 408.5 864.4 409.2 867 409.2C869.5 409.3 870.6 408.8 872.7 408.8C874.8 408.8 876 409.6 877.3 409.2C878.7 408.8 878.5 407.3 879.7 406.9C880.8 406.5 881.5 407.1 883.1 407.4C884.7 407.6 885.7 408 887.7 408.1C889.8 408.2 891.2 407.7 893.5 407.8C895.8 407.9 896.5 408.3 899.3 408.5C902.1 408.7 904.1 408.6 907.4 408.8C910.6 408.9 912 409.4 915.5 409.4C918.9 409.5 921 409.1 924.7 409C928.4 408.8 930.2 408.9 933.9 408.8C937.6 408.6 939.9 408.5 943.2 408.3C946.4 408.1 947.8 408 950.1 407.8C952.4 407.6 952.4 407.4 954.7 407.4C957 407.3 958.9 407.5 961.6 407.6C964.4 407.7 965.8 407.9 968.6 408.1C971.3 408.2 973.4 408.3 975.5 408.5C977.6 408.8 977.6 409.4 979 409.2C980.3 409.1 980.8 408 982.4 407.8C984 407.7 985.3 408.4 987 408.5C988.8 408.7 990.2 408.5 991 408.5" fill="none" stroke="#ff8000" stroke-width="1.7" stroke-linejoin="round" stroke-linecap="round"/>
<path d="M680.1 435.4C680.2 437.7 680.4 441.4 680.8 446.9C681.1 452.5 681.2 456.2 681.9 463.1C682.6 470 683.3 475.1 684.2 481.6C685.2 488 685.6 491.3 686.5 495.4C687.5 499.6 687.9 499.6 688.9 502.4C689.8 505.1 690.2 508.1 691.2 509.3C692.1 510.4 692.6 506.5 693.5 508.1C694.4 509.7 694.9 515.1 695.8 517.4C696.7 519.7 697.2 517.8 698.1 519.7C699 521.5 699.5 524.5 700.4 526.6C701.3 528.7 701.8 530.5 702.7 530.1C703.6 529.6 704 523.1 705 524.3C706.1 525.5 706.9 534.9 708 535.8C709.2 536.8 709.6 528.2 710.8 528.9C712 529.6 712.5 540.4 713.8 539.3C715.1 538.2 716 524.1 717.3 523.6C718.5 523.1 718.9 535.9 720 537C721.2 538.1 721.8 528.9 723 528.9C724.3 528.9 725 536.5 726.3 537C727.5 537.5 728.1 531.5 729.3 531.2C730.4 531 731.1 534.7 732 535.8C733 537 732.9 538.7 733.9 537C734.9 535.3 735.7 527.3 736.9 527.3C738 527.3 738.5 536.7 739.7 537C740.8 537.3 741.5 528.5 742.7 528.9C743.8 529.3 744.3 538.6 745.4 538.8C746.6 539.1 747.2 530 748.4 530.1C749.7 530.2 750.4 538.6 751.7 539.3C752.9 540 753.5 532.6 754.7 533.5C755.9 534.5 756.5 542.5 757.7 543.9C758.8 545.3 759.3 539.6 760.5 540.5C761.6 541.3 762.3 546.9 763.5 548.1C764.6 549.2 765.1 545.2 766.2 546.2C767.4 547.3 768.1 552 769.2 553.2C770.4 554.3 770.9 551.3 772 552C773.1 552.7 773.6 556.2 774.8 556.6C775.9 557.1 776.6 553.7 777.8 554.3C779 554.9 779.6 558.8 780.8 559.6C781.9 560.4 782.4 557.7 783.5 558.2C784.7 558.8 785.4 561.9 786.5 562.4C787.7 562.9 788.2 559.9 789.3 560.6C790.5 561.2 791.2 566.2 792.3 565.9C793.5 565.5 793.8 557.8 795.1 558.9C796.3 560.1 797.3 571.2 798.6 571.6C799.8 572.1 800.3 559.4 801.6 561.2C802.9 563.1 803.6 580.2 805 580.9C806.4 581.6 807.1 565.6 808.5 564.7C809.8 563.8 810.5 576 811.7 576.3C813 576.5 813.4 565.9 814.7 565.9C816 565.9 816.9 576.5 818.2 576.3C819.5 576 819.9 565.2 821.2 564.7C822.4 564.2 823.2 574.4 824.4 573.9C825.7 573.5 826.3 565.4 827.4 562.4C828.6 559.4 829 557.6 830.2 558.9C831.4 560.3 832.2 569.1 833.2 569.3C834.2 569.6 834.3 560 835 560.1C835.7 560.2 835.8 569.7 836.7 569.9C837.5 570 838.2 561.6 839.3 560.8C840.3 560 840.7 566.5 841.9 566C843.1 565.5 843.9 550.9 845.3 558.2C846.7 565.5 847.3 603.1 848.9 602.3C850.5 601.6 851.5 555.8 853.1 554.3C854.6 552.7 855.3 595.3 856.7 594.5C858.1 593.8 858.8 547 860.1 550.4C861.4 553.8 861.9 611.9 863.2 611.4C864.5 610.9 865.2 552.2 866.6 547.8C867.9 543.4 868.6 589.1 869.9 589.4C871.2 589.6 871.9 550.4 873.1 549.1C874.2 547.8 874.5 584.2 875.6 582.9C876.8 581.6 877.5 554.5 878.8 542.6C880.1 530.6 881.1 523.9 882.1 523.1C883.2 522.3 883.4 526.5 884.2 538.7C885 550.9 885.3 585.5 886 584.2C886.8 582.9 887 535.6 888.1 532.2C889.3 528.8 890.4 563.4 891.8 567.3C893.2 571.2 893.8 553 895.1 551.7C896.5 550.4 897.2 560.3 898.5 560.8C899.8 561.3 900.3 552.7 901.6 554.3C902.9 555.8 903.6 569.1 905 568.6C906.4 568.1 907.2 551.9 908.6 551.7C910 551.4 910.8 566.5 912 567.3C913.2 568.1 913.4 553 914.6 555.6C915.8 558.2 916.9 574.5 918 580.3C919 586 918.9 580.8 919.8 584.2C920.7 587.5 921.5 601.8 922.4 597.1C923.3 592.5 923.4 563.1 924.5 560.8C925.5 558.4 926.5 587.3 927.6 585.5C928.7 583.6 929 557.4 930.2 551.7C931.4 546 932.3 558.4 933.6 556.9C934.9 555.3 935.5 544.4 936.7 543.9C937.8 543.4 938.4 548.3 939.3 554.3C940.2 560.3 940.5 575.1 941.4 573.8C942.2 572.5 942.7 545.2 943.7 547.8C944.7 550.4 945.4 588.3 946.6 586.8C947.8 585.2 948.4 540 949.7 540C950.9 540 951.6 586.8 952.8 586.8C954 586.8 954.6 540.8 955.6 540C956.7 539.2 957.1 582.9 958.2 582.9C959.4 582.9 960.1 539.5 961.4 540C962.6 540.5 963.3 585.7 964.5 585.5C965.7 585.2 966.1 542.3 967.3 538.7C968.5 535.1 969.3 567.8 970.5 567.3C971.6 566.8 971.8 526.8 973.1 536.1C974.3 545.5 975.4 613.5 976.7 614C978 614.5 978.4 547.3 979.5 538.7C980.7 530.1 981.5 571.4 982.7 571.2C983.8 570.9 984.2 541.6 985.3 537.4C986.3 533.2 986.8 549.1 987.9 550.4C988.9 551.7 990.1 545.2 990.7 543.9" fill="none" stroke="#00ff00" stroke-width="2.0" stroke-linejoin="round" stroke-linecap="round"/>
<path d="M680.3 384.5C680.4 395.6 680.2 426.1 680.8 440C681.3 453.9 681.9 448.8 683.1 453.9C684.2 458.9 685.2 461.2 686.5 465.4C687.9 469.6 688.6 472.1 690 474.6C691.4 477.2 692.1 476.5 693.5 478.1C694.9 479.7 695.6 481.1 696.9 482.7C698.3 484.3 699.2 484.8 700.4 486.2C701.6 487.6 701.8 489.4 702.7 489.7C703.6 489.9 704.1 486.9 705 487.3C705.9 487.8 706.2 491.7 707.3 492C708.5 492.2 709.4 487.8 710.8 488.5C712.2 489.2 713 497.2 714.3 495.4C715.6 493.7 716.1 480.6 717.3 479.7C718.4 478.8 718.8 490.2 720 490.8C721.3 491.4 722.1 482.6 723.5 482.7C724.9 482.8 725.6 491.5 727 491.3C728.3 491 729.1 481.7 730.4 481.6C731.7 481.5 732.2 491 733.4 490.8C734.7 490.6 735.4 480.6 736.7 480.4C737.9 480.2 738.4 490 739.7 489.7C741 489.3 741.8 478.9 743.1 478.8C744.4 478.7 744.9 488.8 746.1 489C747.4 489.1 748.1 479.4 749.4 479.7C750.6 480 751.2 489.7 752.4 490.3C753.6 490.9 754.2 482.2 755.4 482.7C756.5 483.3 757 492 758.1 493.1C759.2 494.3 759.8 487.8 760.9 488.5C762.1 489.2 762.8 495.3 763.9 496.6C765.1 497.9 765.5 494.2 766.7 495C767.8 495.8 768.5 499.7 769.7 500.5C770.8 501.3 771.3 498.1 772.5 498.9C773.6 499.7 774.3 504.2 775.5 504.7C776.6 505.1 777.1 500.5 778.2 501.2C779.4 501.9 780.1 507.4 781.2 508.1C782.4 508.8 782.9 504 784 504.7C785.2 505.4 785.9 511.1 787 511.6C788.2 512.1 788.6 506.4 789.8 507C790.9 507.5 791.6 514.3 792.8 514.4C793.9 514.5 794.4 507.2 795.6 507.4C796.7 507.7 797.3 515.8 798.6 515.8C799.8 515.8 800.7 507.3 802 507.4C803.3 507.5 803.7 516.2 805 516.2C806.3 516.2 807.1 507.7 808.5 507.4C809.8 507.2 810.5 515.2 811.7 515.1C813 515 813.4 507.3 814.7 507C816 506.7 816.8 513.7 818.2 513.4C819.6 513.2 820.4 506.1 821.7 505.8C822.9 505.5 823.4 512.5 824.7 512.1C825.9 511.6 826.5 503.7 827.9 503.5C829.2 503.3 830.1 511.4 831.4 511.1C832.6 510.9 833 503.8 834.4 502.4C835.7 500.9 836.8 501.5 838.3 503.7C839.8 505.8 840.3 513.2 841.6 513C843 512.8 843.6 502.3 844.9 502.6C846.3 502.8 846.9 514.3 848.3 514.1C849.6 513.9 850.3 501.4 851.6 501.5C852.9 501.7 853.6 514.7 854.9 514.7C856.3 514.6 856.9 501.2 858.2 501.3C859.6 501.3 860.2 515 861.6 514.9C862.9 514.9 863.6 501 864.9 501C866.2 501.1 866.9 515.2 868.2 515.2C869.6 515.1 870.2 501.6 871.5 500.8C872.9 500 873.5 512.4 874.9 511.3C876.2 510.2 876.9 494.9 878.2 495.3C879.5 495.6 880.2 510.5 881.5 513C882.8 515.4 883.5 504.5 884.8 507.5C886.2 510.5 886.8 526.6 888.2 528C889.5 529.4 890.2 513 891.5 514.5C892.8 515.9 893.5 534.2 894.8 535.3C896.1 536.4 896.8 518.9 898.1 519.8C899.5 520.8 900.1 539.8 901.5 540.1C902.8 540.4 903.5 522.7 904.8 521.3C906.1 519.9 906.8 533.3 908.1 533.1C909.4 533 910.1 521.8 911.4 520.5C912.8 519.3 913.4 527.8 914.8 526.9C916.1 525.9 916.8 517 918.1 515.9C919.4 514.7 920.1 522 921.4 521.1C922.7 520.1 923.4 512.4 924.7 511.2C926.1 510.1 926.7 516.1 928.1 515.3C929.4 514.4 930.1 507.8 931.4 506.9C932.7 506.1 933.4 511.7 934.7 511C936 510.2 936.7 504.1 938 503.3C939.4 502.5 940 507.6 941.4 506.9C942.7 506.1 943.4 500.4 944.7 499.7C946 499 946.7 503.8 948 503.5C949.3 503.3 950 498.9 951.3 498.4C952.7 497.8 953.3 500.8 954.7 500.9C956 500.9 956.7 498.2 958 498.5C959.3 498.8 960 501.9 961.3 502.3C962.6 502.6 963.3 499.8 964.6 500.3C966 500.8 966.6 504 968 504.8C969.3 505.5 970 503.3 971.3 504.1C972.6 504.9 973.3 508.1 974.6 508.9C975.9 509.8 976.6 507.1 977.9 508.3C979.3 509.4 979.9 513.5 981.3 514.5C982.6 515.6 983.3 512.7 984.6 513.4C985.9 514.1 986.6 517.9 987.9 518.1C989.2 518.4 990.6 515.3 991.2 514.5" fill="none" stroke="#000080" stroke-width="2.1" stroke-linejoin="round" stroke-linecap="round"/>
<text x="808.3" y="678" font-size="15.5" text-anchor="start" font-family='"Liberation Serif","Times New Roman",serif' fill="#000" textLength="105.4" lengthAdjust="spacingAndGlyphs" stroke="#000" stroke-width="0.1">Frequency(GHz)</text>
<text x="633" y="546.8" font-size="15.6" text-anchor="start" font-family='"Liberation Serif","Times New Roman",serif' fill="#000" textLength="80.4" lengthAdjust="spacingAndGlyphs" transform="rotate(-90 633 546.8)" stroke="#000" stroke-width="0.1">EMI SE(dB)</text>
<line x1="979.6" y1="342" x2="1012.4" y2="342" stroke="#ff0000" stroke-width="2"/>
<text x="1015.9" y="346.8" font-size="13.7" text-anchor="start" font-family='"Liberation Sans",Arial,sans-serif' fill="#000" textLength="28.2" lengthAdjust="spacingAndGlyphs" stroke="#000" stroke-width="0.1">NLC</text>
<line x1="979.6" y1="359.8" x2="1012.4" y2="359.8" stroke="#ff8000" stroke-width="2"/>
<text x="1015.9" y="364.6" font-size="13.7" text-anchor="start" font-family='"Liberation Sans",Arial,sans-serif' fill="#000" textLength="28.2" lengthAdjust="spacingAndGlyphs" stroke="#000" stroke-width="0.1">NLN</text>
<line x1="979.6" y1="377.6" x2="1012.4" y2="377.6" stroke="#00ff00" stroke-width="2"/>
<text x="1015.9" y="382.4" font-size="13.7" text-anchor="start" font-family='"Liberation Sans",Arial,sans-serif' fill="#000" textLength="28.2" lengthAdjust="spacingAndGlyphs" stroke="#000" stroke-width="0.1">CLC</text>
<line x1="979.6" y1="395.4" x2="1012.4" y2="395.4" stroke="#000080" stroke-width="2"/>
<text x="1015.9" y="400.2" font-size="13.7" text-anchor="start" font-family='"Liberation Sans",Arial,sans-serif' fill="#000" textLength="28.2" lengthAdjust="spacingAndGlyphs" stroke="#000" stroke-width="0.1">CLN</text>
</svg>
</body></html>
